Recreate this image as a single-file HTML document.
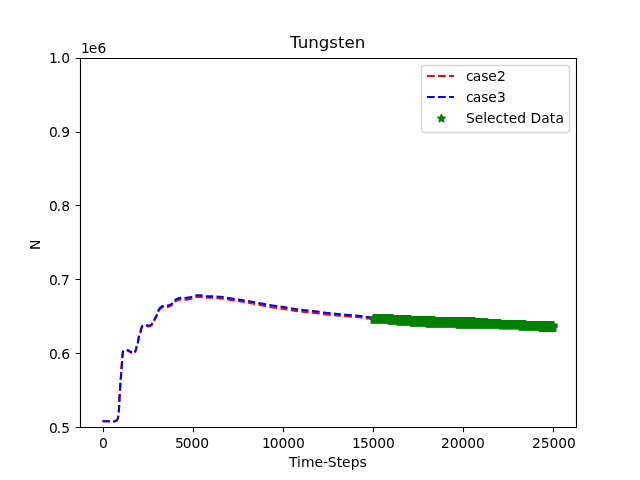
<!DOCTYPE html>
<html><head><meta charset="utf-8"><title>Tungsten</title>
<style>html,body{margin:0;padding:0;background:#fff;width:640px;height:480px;overflow:hidden}svg{display:block}</style>
</head><body>
<svg width="640" height="480" viewBox="0 0 640 480">
<rect x="0" y="0" width="640" height="480" fill="#ffffff"/>
<defs><clipPath id="ax"><rect x="80" y="57.6" width="496" height="369.6"/></clipPath></defs>
<path clip-path="url(#ax)" d="M102.50 421.30 L103.02 421.30 L103.54 421.31 L104.06 421.31 L104.70 421.31 L105.21 421.32 L105.72 421.32 L106.35 421.32 L106.85 421.33 L107.35 421.33 L107.85 421.33 L108.47 421.34 L108.96 421.34 L109.45 421.34 L109.85 421.35M113.18 421.37 L113.67 421.37 L114.15 421.38 L114.62 421.38 L115.11 421.33 L115.74 421.13 L116.19 420.89 L116.56 420.64 L116.95 420.22 L117.23 419.78 L117.47 419.30 L117.70 418.71 L117.83 418.26 L117.95 417.78 L118.05 417.30 L118.17 416.69 L118.25 416.20 L118.31 415.78M118.76 412.48 L118.79 412.06 L118.84 411.44 L118.88 410.95 L118.91 410.46 L118.94 409.97 L118.98 409.35 L119.01 408.86 L119.03 408.37 L119.07 407.75 L119.09 407.26 L119.12 406.77 L119.14 406.27 L119.17 405.66 L119.19 405.23M119.34 401.90 L119.36 401.47 L119.38 400.98 L119.40 400.36 L119.42 399.87 L119.45 399.37 L119.48 398.76 L119.50 398.27 L119.53 397.77 L119.56 397.28 L119.60 396.67 L119.63 396.18 L119.67 395.68 L119.71 395.07 L119.75 394.58 L119.78 394.15M119.99 390.83 L120.01 390.40 L120.04 389.91 L120.07 389.29 L120.09 388.80 L120.12 388.31 L120.15 387.69 L120.18 387.20 L120.21 386.71 L120.24 386.09 L120.26 385.60 L120.29 385.10 L120.31 384.61 L120.34 384.00 L120.37 383.50 L120.39 383.08M120.65 379.75 L120.69 379.33 L120.76 378.72 L120.82 378.23 L120.87 377.74 L120.92 377.26 L120.98 376.64 L121.02 376.15 L121.06 375.66 L121.10 375.05 L121.13 374.56 L121.17 374.06 L121.20 373.57 L121.24 372.96 L121.26 372.53M121.49 369.21 L121.52 368.78 L121.55 368.29 L121.60 367.67 L121.63 367.18 L121.67 366.69 L121.72 366.08 L121.75 365.59 L121.79 365.10 L121.82 364.60 L121.87 363.99 L121.90 363.50 L121.94 363.01 L121.98 362.39 L122.02 361.90 L122.05 361.48M122.29 358.15 L122.32 357.73 L122.35 357.23 L122.40 356.62 L122.44 356.13 L122.48 355.64 L122.54 355.02 L122.59 354.52 L122.64 354.02 L122.72 353.39 L122.80 352.91 L122.89 352.44 L123.00 352.00 L123.28 351.42 L123.56 351.09M126.80 350.66 L127.24 350.66 L127.71 350.70 L128.28 350.87 L128.72 351.10 L129.16 351.37 L129.60 351.66 L130.15 352.02 L130.59 352.26 L131.04 352.52 L131.60 352.88 L131.94 353.09M134.81 352.70 L135.02 352.34 L135.23 351.87 L135.47 351.27 L135.64 350.81 L135.80 350.35 L135.94 349.88 L136.11 349.29 L136.24 348.81 L136.37 348.33 L136.53 347.73 L136.67 347.26 L136.79 346.85M137.68 343.63 L137.77 343.22 L137.88 342.74 L138.00 342.13 L138.09 341.65 L138.17 341.16 L138.28 340.55 L138.36 340.06 L138.44 339.58 L138.53 339.09 L138.65 338.48 L138.75 338.00 L138.85 337.52 L139.01 336.93 L139.13 336.52M140.15 333.35 L140.26 332.93 L140.39 332.44 L140.54 331.83 L140.67 331.35 L140.79 330.86 L140.91 330.38 L141.08 329.78 L141.22 329.31 L141.37 328.84 L141.58 328.27 L141.76 327.83 L141.96 327.40 L142.21 326.94 L142.60 326.44 L142.94 326.22M146.21 325.88 L146.64 325.98 L147.12 326.13 L147.73 326.33 L148.21 326.44 L148.69 326.48 L149.29 326.38 L149.78 326.22 L150.24 326.03 L150.67 325.83 L151.17 325.49 L151.55 325.15 L151.90 324.79 L152.27 324.33 L152.50 323.99M154.04 321.04 L154.25 320.65 L154.49 320.23 L154.73 319.80 L155.04 319.26 L155.28 318.83 L155.52 318.41 L155.81 317.87 L156.04 317.43 L156.27 317.00 L156.48 316.56 L156.74 316.01 L156.94 315.56 L157.10 315.17M158.13 312.00 L158.30 311.62 L158.57 311.09 L158.83 310.67 L159.11 310.25 L159.49 309.75 L159.81 309.37 L160.14 309.01 L160.48 308.68 L160.94 308.29 L161.34 307.97 L161.76 307.68 L162.31 307.37 L162.75 307.19 L163.21 307.10 L163.65 307.03M166.98 306.94 L167.41 306.95 L168.01 306.89 L168.49 306.76 L168.96 306.58 L169.53 306.32 L169.98 306.12 L170.43 305.92 L170.99 305.65 L171.43 305.41 L171.86 305.15 L172.26 304.88 L172.67 304.55M174.65 301.89 L174.95 301.64 L175.34 301.38 L175.77 301.13 L176.33 300.86 L176.80 300.66 L177.27 300.47 L177.74 300.31 L178.32 300.12 L178.79 299.96 L179.26 299.80 L179.86 299.63 L180.35 299.53 L180.83 299.46 L181.26 299.46M184.58 299.79 L185.14 299.79 L185.64 299.75 L186.13 299.68 L186.62 299.60 L187.23 299.49 L187.72 299.41 L188.21 299.33 L188.82 299.22 L189.31 299.13 L189.80 299.04 L190.29 298.94 L190.90 298.81 L191.38 298.69 L191.86 298.57 L192.33 298.42M195.31 296.98 L195.84 296.96 L196.33 296.95 L196.82 296.94 L197.45 296.93 L197.95 296.93 L198.45 296.92 L198.95 296.91 L199.57 296.92 L200.06 296.93 L200.56 296.96 L201.17 297.01 L201.67 297.05 L202.16 297.09 L202.60 297.14M205.88 297.71 L206.32 297.76 L206.93 297.78 L207.42 297.78 L207.92 297.78 L208.53 297.78 L209.03 297.78 L209.52 297.78 L210.02 297.77 L210.64 297.77 L211.13 297.77 L211.63 297.77 L212.25 297.77 L212.74 297.77 L213.18 297.79M216.49 298.11 L216.93 298.15 L217.55 298.20 L218.04 298.24 L218.53 298.27 L219.03 298.30 L219.65 298.34 L220.14 298.38 L220.63 298.41 L221.25 298.46 L221.74 298.50 L222.23 298.54 L222.73 298.58 L223.34 298.65 L223.77 298.70M227.05 299.26 L227.49 299.34 L227.97 299.43 L228.58 299.53 L229.07 299.62 L229.55 299.71 L230.16 299.82 L230.65 299.91 L231.14 299.99 L231.62 300.07 L232.23 300.17 L232.72 300.25 L233.21 300.33 L233.82 300.42 L234.31 300.49 L234.74 300.56M238.04 301.03 L238.47 301.09 L238.96 301.16 L239.57 301.25 L240.06 301.32 L240.55 301.40 L241.16 301.50 L241.65 301.58 L242.14 301.66 L242.63 301.74 L243.24 301.84 L243.73 301.93 L244.22 302.01 L244.77 302.10M248.06 302.67 L248.49 302.75 L248.98 302.83 L249.46 302.92 L250.07 303.03 L250.56 303.12 L251.05 303.21 L251.54 303.30 L252.14 303.41 L252.63 303.50 L253.12 303.59 L253.73 303.71 L254.21 303.81 L254.70 303.90 L255.13 303.99M258.40 304.64 L258.83 304.73 L259.44 304.85 L259.92 304.94 L260.41 305.04 L261.02 305.16 L261.50 305.25 L261.99 305.35 L262.60 305.46 L263.08 305.56 L263.57 305.65 L264.06 305.75 L264.67 305.86 L265.15 305.96 L265.64 306.05 L266.07 306.13M269.35 306.75 L269.90 306.85 L270.39 306.94 L270.88 307.03 L271.36 307.12 L271.97 307.22 L272.46 307.30 L272.95 307.38 L273.56 307.48 L274.05 307.56 L274.54 307.63 L275.03 307.70 L275.64 307.79 L276.13 307.86 L276.62 307.93 L277.18 308.01M280.48 308.46 L280.92 308.52 L281.41 308.60 L281.90 308.67 L282.51 308.76 L283.00 308.84 L283.49 308.91 L283.98 308.99 L284.59 309.08 L285.07 309.17 L285.56 309.25 L286.17 309.36 L286.65 309.45 L287.14 309.54 L287.57 309.62M290.85 310.23 L291.27 310.30 L291.88 310.40 L292.37 310.49 L292.86 310.56 L293.47 310.65 L293.96 310.72 L294.44 310.79 L295.06 310.87 L295.55 310.93 L296.04 310.99 L296.53 311.05 L297.14 311.12 L297.63 311.18 L298.06 311.23M301.38 311.58 L301.81 311.63 L302.43 311.69 L302.92 311.74 L303.41 311.79 L303.90 311.84 L304.52 311.91 L305.01 311.96 L305.50 312.01 L306.11 312.08 L306.61 312.13 L307.10 312.18 L307.59 312.23 L308.21 312.29 L308.64 312.33M311.95 312.66 L312.39 312.70 L312.88 312.75 L313.49 312.81 L313.98 312.87 L314.48 312.92 L315.09 312.99 L315.58 313.04 L316.07 313.10 L316.56 313.16 L317.18 313.23 L317.67 313.29 L318.16 313.36 L318.77 313.44 L319.26 313.51 L319.69 313.57M322.99 314.03 L323.42 314.09 L323.91 314.15 L324.52 314.23 L325.01 314.30 L325.50 314.36 L326.12 314.43 L326.61 314.49 L327.10 314.54 L327.71 314.61 L328.20 314.66 L328.70 314.71 L329.19 314.76 L329.80 314.82 L330.29 314.87 L330.73 314.91M334.05 315.21 L334.48 315.25 L335.10 315.31 L335.59 315.35 L336.08 315.39 L336.57 315.44 L337.19 315.49 L337.68 315.53 L338.17 315.58 L338.79 315.63 L339.28 315.68 L339.77 315.72 L340.27 315.76 L340.82 315.81M344.14 316.09 L344.58 316.13 L345.07 316.17 L345.56 316.21 L346.18 316.26 L346.67 316.30 L347.16 316.34 L347.78 316.39 L348.27 316.43 L348.76 316.47 L349.26 316.51 L349.87 316.55 L350.37 316.59 L350.86 316.62 L351.48 316.67 L351.91 316.70M355.24 316.92 L355.67 316.95 L356.17 316.98 L356.66 317.02 L357.28 317.07 L357.77 317.11 L358.26 317.15 L358.87 317.21 L359.37 317.26 L359.86 317.31 L360.47 317.38 L360.96 317.45 L361.45 317.53 L361.93 317.61 L362.49 317.70M365.78 318.22 L366.21 318.27 L366.70 318.32 L367.19 318.37 L367.81 318.42 L368.30 318.47 L368.79 318.51 L369.28 318.55 L369.90 318.61 L370.39 318.66 L370.88 318.70 L371.50 318.76 L371.99 318.80 L372.48 318.84 L373.10 318.90" style="stroke:#ff0000;stroke-width:2.0833;fill:none;stroke-linejoin:round;stroke-linecap:butt"/>
<path clip-path="url(#ax)" d="M102.50 421.20 L103.02 421.20 L103.54 421.20 L104.06 421.20 L104.70 421.20 L105.21 421.20 L105.72 421.20 L106.35 421.20 L106.85 421.20 L107.35 421.20 L107.85 421.20 L108.47 421.20 L108.96 421.20 L109.45 421.20 L109.85 421.20M113.18 421.20 L113.67 421.20 L114.15 421.20 L114.62 421.20 L115.11 421.15 L115.74 420.94 L116.19 420.71 L116.56 420.45 L116.95 420.02 L117.23 419.58 L117.47 419.11 L117.70 418.51 L117.83 418.06 L117.95 417.58 L118.05 417.10 L118.17 416.48 L118.25 415.99 L118.32 415.55M118.75 412.24 L118.79 411.81 L118.84 411.19 L118.88 410.70 L118.91 410.21 L118.94 409.71 L118.98 409.10 L119.01 408.60 L119.03 408.11 L119.07 407.49 L119.09 407.00 L119.12 406.50 L119.14 406.01 L119.17 405.39 L119.19 404.95M119.34 401.62 L119.36 401.19 L119.38 400.69 L119.40 400.08 L119.42 399.58 L119.45 399.09 L119.48 398.47 L119.50 397.98 L119.53 397.48 L119.56 396.99 L119.60 396.37 L119.63 395.88 L119.67 395.38 L119.71 394.77 L119.75 394.27 L119.78 393.84M119.99 390.51 L120.01 390.08 L120.04 389.58 L120.07 388.97 L120.09 388.47 L120.12 387.98 L120.15 387.36 L120.18 386.87 L120.21 386.37 L120.24 385.76 L120.26 385.26 L120.29 384.77 L120.31 384.27 L120.34 383.66 L120.37 383.16 L120.39 382.73M120.65 379.40 L120.69 378.97 L120.76 378.36 L120.82 377.86 L120.87 377.37 L120.92 376.88 L120.98 376.26 L121.02 375.77 L121.06 375.28 L121.10 374.66 L121.13 374.17 L121.17 373.67 L121.20 373.18 L121.24 372.56 L121.26 372.13M121.48 368.80 L121.52 368.37 L121.55 367.88 L121.60 367.26 L121.63 366.76 L121.67 366.27 L121.72 365.66 L121.75 365.16 L121.79 364.67 L121.82 364.17 L121.87 363.56 L121.90 363.06 L121.94 362.57 L121.98 361.95 L122.02 361.46 L122.05 361.03M122.29 357.70 L122.32 357.27 L122.35 356.77 L122.40 356.16 L122.44 355.66 L122.48 355.17 L122.54 354.55 L122.59 354.05 L122.64 353.54 L122.72 352.91 L122.80 352.42 L122.89 351.95 L123.00 351.50 L123.28 350.91 L123.57 350.58M126.80 350.10 L127.24 350.10 L127.71 350.13 L128.28 350.30 L128.72 350.52 L129.16 350.78 L129.60 351.07 L130.15 351.41 L130.59 351.64 L131.04 351.90 L131.60 352.25 L131.93 352.46M134.80 352.03 L135.02 351.66 L135.23 351.19 L135.47 350.59 L135.64 350.13 L135.80 349.66 L135.94 349.19 L136.11 348.59 L136.24 348.11 L136.37 347.63 L136.53 347.03 L136.67 346.56 L136.79 346.14M137.67 342.92 L137.77 342.50 L137.88 342.02 L138.00 341.41 L138.09 340.92 L138.17 340.44 L138.28 339.82 L138.36 339.34 L138.44 338.85 L138.53 338.36 L138.65 337.75 L138.75 337.27 L138.85 336.79 L139.01 336.19 L139.13 335.77M140.15 332.60 L140.26 332.17 L140.39 331.69 L140.54 331.07 L140.67 330.59 L140.79 330.10 L140.91 329.61 L141.08 329.01 L141.22 328.54 L141.37 328.07 L141.58 327.50 L141.76 327.06 L141.96 326.62 L142.21 326.16 L142.60 325.65 L142.95 325.42M146.21 325.04 L146.64 325.13 L147.12 325.27 L147.73 325.46 L148.21 325.57 L148.69 325.60 L149.29 325.49 L149.78 325.33 L150.24 325.12 L150.67 324.91 L151.17 324.56 L151.55 324.21 L151.90 323.84 L152.27 323.37 L152.51 323.01M154.04 320.05 L154.25 319.65 L154.49 319.21 L154.73 318.78 L155.04 318.23 L155.28 317.80 L155.52 317.36 L155.81 316.82 L156.04 316.38 L156.27 315.94 L156.48 315.49 L156.74 314.94 L156.94 314.49 L157.11 314.07M158.13 310.90 L158.30 310.51 L158.57 309.97 L158.83 309.54 L159.11 309.11 L159.49 308.60 L159.81 308.21 L160.14 307.85 L160.48 307.51 L160.94 307.11 L161.34 306.78 L161.76 306.47 L162.31 306.15 L162.75 305.97 L163.21 305.86 L163.65 305.78M166.98 305.60 L167.41 305.60 L168.01 305.52 L168.49 305.38 L168.96 305.19 L169.53 304.92 L169.98 304.71 L170.43 304.50 L170.99 304.21 L171.43 303.96 L171.86 303.69 L172.26 303.40 L172.69 303.05M174.64 300.37 L174.95 300.09 L175.34 299.82 L175.77 299.57 L176.33 299.28 L176.80 299.07 L177.27 298.87 L177.74 298.69 L178.32 298.49 L178.79 298.32 L179.26 298.15 L179.86 297.96 L180.35 297.85 L180.83 297.77 L181.26 297.75M184.58 298.00 L185.14 297.99 L185.64 297.95 L186.13 297.90 L186.62 297.82 L187.23 297.72 L187.72 297.64 L188.21 297.57 L188.82 297.47 L189.31 297.39 L189.80 297.30 L190.29 297.21 L190.90 297.09 L191.38 296.98 L191.86 296.86 L192.32 296.72M195.31 295.32 L195.84 295.30 L196.33 295.30 L196.82 295.30 L197.45 295.30 L197.95 295.30 L198.45 295.30 L198.95 295.30 L199.57 295.31 L200.06 295.33 L200.56 295.36 L201.17 295.41 L201.67 295.45 L202.16 295.50 L202.60 295.54M205.88 296.13 L206.32 296.18 L206.93 296.20 L207.42 296.20 L207.92 296.20 L208.53 296.20 L209.03 296.20 L209.52 296.20 L210.02 296.20 L210.64 296.20 L211.13 296.20 L211.63 296.20 L212.25 296.20 L212.74 296.21 L213.18 296.23M216.49 296.55 L216.93 296.59 L217.55 296.64 L218.04 296.68 L218.53 296.72 L219.03 296.75 L219.65 296.79 L220.14 296.83 L220.63 296.86 L221.25 296.91 L221.74 296.95 L222.23 296.99 L222.73 297.04 L223.34 297.10 L223.77 297.16M227.05 297.73 L227.49 297.81 L227.97 297.90 L228.58 298.00 L229.07 298.09 L229.55 298.18 L230.16 298.29 L230.65 298.38 L231.14 298.47 L231.62 298.55 L232.23 298.65 L232.72 298.73 L233.21 298.81 L233.82 298.90 L234.31 298.98 L234.74 299.04M238.04 299.52 L238.47 299.58 L238.96 299.66 L239.57 299.75 L240.06 299.82 L240.55 299.89 L241.16 299.99 L241.65 300.06 L242.14 300.14 L242.63 300.22 L243.24 300.31 L243.73 300.39 L244.22 300.47 L244.77 300.56M248.06 301.10 L248.49 301.17 L248.98 301.25 L249.46 301.33 L250.07 301.44 L250.56 301.52 L251.05 301.60 L251.54 301.69 L252.14 301.80 L252.63 301.88 L253.12 301.97 L253.73 302.08 L254.21 302.17 L254.70 302.26 L255.13 302.34M258.40 302.97 L258.83 303.05 L259.44 303.17 L259.92 303.26 L260.41 303.35 L261.02 303.46 L261.50 303.55 L261.99 303.64 L262.60 303.75 L263.08 303.84 L263.57 303.93 L264.06 304.02 L264.67 304.13 L265.15 304.22 L265.64 304.31 L266.07 304.39M269.35 304.98 L269.90 305.08 L270.39 305.16 L270.88 305.24 L271.36 305.32 L271.97 305.42 L272.46 305.50 L272.95 305.58 L273.56 305.67 L274.05 305.74 L274.54 305.81 L275.03 305.88 L275.64 305.96 L276.13 306.03 L276.62 306.09 L277.18 306.16M280.49 306.59 L280.92 306.64 L281.41 306.71 L281.90 306.78 L282.51 306.87 L283.00 306.94 L283.49 307.01 L283.98 307.09 L284.59 307.19 L285.07 307.28 L285.56 307.37 L286.17 307.48 L286.65 307.57 L287.14 307.66 L287.57 307.75M290.84 308.37 L291.27 308.45 L291.88 308.56 L292.37 308.65 L292.86 308.73 L293.47 308.82 L293.96 308.89 L294.44 308.96 L295.06 309.05 L295.55 309.11 L296.04 309.18 L296.53 309.24 L297.14 309.31 L297.63 309.37 L298.07 309.42M301.38 309.80 L301.81 309.85 L302.43 309.91 L302.92 309.97 L303.41 310.02 L303.90 310.08 L304.52 310.15 L305.01 310.20 L305.50 310.26 L306.11 310.32 L306.61 310.38 L307.10 310.43 L307.59 310.48 L308.21 310.55 L308.64 310.59M311.95 310.94 L312.39 310.99 L312.88 311.04 L313.49 311.11 L313.98 311.16 L314.48 311.22 L315.09 311.29 L315.58 311.35 L316.07 311.41 L316.56 311.47 L317.18 311.55 L317.67 311.61 L318.16 311.68 L318.77 311.77 L319.26 311.84 L319.69 311.90M322.99 312.38 L323.42 312.44 L323.91 312.51 L324.52 312.60 L325.01 312.66 L325.50 312.73 L326.12 312.81 L326.61 312.87 L327.10 312.92 L327.71 312.99 L328.20 313.05 L328.70 313.10 L329.19 313.15 L329.80 313.22 L330.29 313.27 L330.73 313.32M334.05 313.64 L334.48 313.68 L335.10 313.74 L335.59 313.79 L336.08 313.84 L336.57 313.88 L337.19 313.94 L337.68 313.99 L338.17 314.04 L338.79 314.09 L339.28 314.14 L339.77 314.19 L340.27 314.23 L340.82 314.29M344.14 314.59 L344.58 314.63 L345.07 314.68 L345.56 314.72 L346.18 314.77 L346.67 314.82 L347.16 314.86 L347.78 314.92 L348.27 314.96 L348.76 315.00 L349.26 315.04 L349.87 315.09 L350.37 315.13 L350.86 315.17 L351.48 315.22 L351.91 315.25M355.24 315.49 L355.67 315.53 L356.17 315.57 L356.66 315.61 L357.28 315.66 L357.77 315.70 L358.26 315.75 L358.87 315.81 L359.37 315.86 L359.86 315.92 L360.47 316.00 L360.96 316.07 L361.45 316.15 L361.93 316.23 L362.49 316.33M365.78 316.87 L366.21 316.92 L366.70 316.98 L367.19 317.03 L367.81 317.09 L368.30 317.13 L368.79 317.18 L369.28 317.23 L369.90 317.29 L370.39 317.34 L370.88 317.39 L371.50 317.45 L371.99 317.49 L372.48 317.54 L373.10 317.60" style="stroke:#0000ff;stroke-width:2.0833;fill:none;stroke-linejoin:round;stroke-linecap:butt"/>
<path clip-path="url(#ax)" d="M373.50 314.33L372.56 317.21L369.54 317.21L371.99 318.99L371.05 321.87L373.50 320.09L375.95 321.87L375.01 318.99L377.46 317.21L374.44 317.21ZM373.50 315.33L372.56 318.21L369.54 318.21L371.99 319.99L371.05 322.87L373.50 321.09L375.95 322.87L375.01 319.99L377.46 318.21L374.44 318.21ZM373.50 315.83L372.56 318.71L369.54 318.71L371.99 320.49L371.05 323.37L373.50 321.59L375.95 323.37L375.01 320.49L377.46 318.71L374.44 318.71ZM374.50 314.33L373.56 317.21L370.54 317.21L372.99 318.99L372.05 321.87L374.50 320.09L376.95 321.87L376.01 318.99L378.46 317.21L375.44 317.21ZM374.50 315.33L373.56 318.21L370.54 318.21L372.99 319.99L372.05 322.87L374.50 321.09L376.95 322.87L376.01 319.99L378.46 318.21L375.44 318.21ZM374.50 315.83L373.56 318.71L370.54 318.71L372.99 320.49L372.05 323.37L374.50 321.59L376.95 323.37L376.01 320.49L378.46 318.71L375.44 318.71ZM375.50 314.33L374.56 317.21L371.54 317.21L373.99 318.99L373.05 321.87L375.50 320.09L377.95 321.87L377.01 318.99L379.46 317.21L376.44 317.21ZM375.50 315.33L374.56 318.21L371.54 318.21L373.99 319.99L373.05 322.87L375.50 321.09L377.95 322.87L377.01 319.99L379.46 318.21L376.44 318.21ZM375.50 315.83L374.56 318.71L371.54 318.71L373.99 320.49L373.05 323.37L375.50 321.59L377.95 323.37L377.01 320.49L379.46 318.71L376.44 318.71ZM376.50 314.33L375.56 317.21L372.54 317.21L374.99 318.99L374.05 321.87L376.50 320.09L378.95 321.87L378.01 318.99L380.46 317.21L377.44 317.21ZM376.50 315.33L375.56 318.21L372.54 318.21L374.99 319.99L374.05 322.87L376.50 321.09L378.95 322.87L378.01 319.99L380.46 318.21L377.44 318.21ZM376.50 315.83L375.56 318.71L372.54 318.71L374.99 320.49L374.05 323.37L376.50 321.59L378.95 323.37L378.01 320.49L380.46 318.71L377.44 318.71ZM377.50 314.33L376.56 317.21L373.54 317.21L375.99 318.99L375.05 321.87L377.50 320.09L379.95 321.87L379.01 318.99L381.46 317.21L378.44 317.21ZM377.50 315.33L376.56 318.21L373.54 318.21L375.99 319.99L375.05 322.87L377.50 321.09L379.95 322.87L379.01 319.99L381.46 318.21L378.44 318.21ZM377.50 315.83L376.56 318.71L373.54 318.71L375.99 320.49L375.05 323.37L377.50 321.59L379.95 323.37L379.01 320.49L381.46 318.71L378.44 318.71ZM378.50 314.33L377.56 317.21L374.54 317.21L376.99 318.99L376.05 321.87L378.50 320.09L380.95 321.87L380.01 318.99L382.46 317.21L379.44 317.21ZM378.50 315.33L377.56 318.21L374.54 318.21L376.99 319.99L376.05 322.87L378.50 321.09L380.95 322.87L380.01 319.99L382.46 318.21L379.44 318.21ZM378.50 315.83L377.56 318.71L374.54 318.71L376.99 320.49L376.05 323.37L378.50 321.59L380.95 323.37L380.01 320.49L382.46 318.71L379.44 318.71ZM379.50 314.33L378.56 317.21L375.54 317.21L377.99 318.99L377.05 321.87L379.50 320.09L381.95 321.87L381.01 318.99L383.46 317.21L380.44 317.21ZM379.50 315.33L378.56 318.21L375.54 318.21L377.99 319.99L377.05 322.87L379.50 321.09L381.95 322.87L381.01 319.99L383.46 318.21L380.44 318.21ZM379.50 315.83L378.56 318.71L375.54 318.71L377.99 320.49L377.05 323.37L379.50 321.59L381.95 323.37L381.01 320.49L383.46 318.71L380.44 318.71ZM380.50 314.33L379.56 317.21L376.54 317.21L378.99 318.99L378.05 321.87L380.50 320.09L382.95 321.87L382.01 318.99L384.46 317.21L381.44 317.21ZM380.50 315.33L379.56 318.21L376.54 318.21L378.99 319.99L378.05 322.87L380.50 321.09L382.95 322.87L382.01 319.99L384.46 318.21L381.44 318.21ZM380.50 315.83L379.56 318.71L376.54 318.71L378.99 320.49L378.05 323.37L380.50 321.59L382.95 323.37L382.01 320.49L384.46 318.71L381.44 318.71ZM381.50 314.33L380.56 317.21L377.54 317.21L379.99 318.99L379.05 321.87L381.50 320.09L383.95 321.87L383.01 318.99L385.46 317.21L382.44 317.21ZM381.50 315.33L380.56 318.21L377.54 318.21L379.99 319.99L379.05 322.87L381.50 321.09L383.95 322.87L383.01 319.99L385.46 318.21L382.44 318.21ZM381.50 315.83L380.56 318.71L377.54 318.71L379.99 320.49L379.05 323.37L381.50 321.59L383.95 323.37L383.01 320.49L385.46 318.71L382.44 318.71ZM382.50 314.33L381.56 317.21L378.54 317.21L380.99 318.99L380.05 321.87L382.50 320.09L384.95 321.87L384.01 318.99L386.46 317.21L383.44 317.21ZM382.50 315.33L381.56 318.21L378.54 318.21L380.99 319.99L380.05 322.87L382.50 321.09L384.95 322.87L384.01 319.99L386.46 318.21L383.44 318.21ZM382.50 315.83L381.56 318.71L378.54 318.71L380.99 320.49L380.05 323.37L382.50 321.59L384.95 323.37L384.01 320.49L386.46 318.71L383.44 318.71ZM383.50 314.33L382.56 317.21L379.54 317.21L381.99 318.99L381.05 321.87L383.50 320.09L385.95 321.87L385.01 318.99L387.46 317.21L384.44 317.21ZM383.50 315.33L382.56 318.21L379.54 318.21L381.99 319.99L381.05 322.87L383.50 321.09L385.95 322.87L385.01 319.99L387.46 318.21L384.44 318.21ZM383.50 315.83L382.56 318.71L379.54 318.71L381.99 320.49L381.05 323.37L383.50 321.59L385.95 323.37L385.01 320.49L387.46 318.71L384.44 318.71ZM384.50 314.33L383.56 317.21L380.54 317.21L382.99 318.99L382.05 321.87L384.50 320.09L386.95 321.87L386.01 318.99L388.46 317.21L385.44 317.21ZM384.50 315.33L383.56 318.21L380.54 318.21L382.99 319.99L382.05 322.87L384.50 321.09L386.95 322.87L386.01 319.99L388.46 318.21L385.44 318.21ZM384.50 315.83L383.56 318.71L380.54 318.71L382.99 320.49L382.05 323.37L384.50 321.59L386.95 323.37L386.01 320.49L388.46 318.71L385.44 318.71ZM385.50 314.33L384.56 317.21L381.54 317.21L383.99 318.99L383.05 321.87L385.50 320.09L387.95 321.87L387.01 318.99L389.46 317.21L386.44 317.21ZM385.50 315.33L384.56 318.21L381.54 318.21L383.99 319.99L383.05 322.87L385.50 321.09L387.95 322.87L387.01 319.99L389.46 318.21L386.44 318.21ZM385.50 315.83L384.56 318.71L381.54 318.71L383.99 320.49L383.05 323.37L385.50 321.59L387.95 323.37L387.01 320.49L389.46 318.71L386.44 318.71ZM386.50 314.33L385.56 317.21L382.54 317.21L384.99 318.99L384.05 321.87L386.50 320.09L388.95 321.87L388.01 318.99L390.46 317.21L387.44 317.21ZM386.50 315.33L385.56 318.21L382.54 318.21L384.99 319.99L384.05 322.87L386.50 321.09L388.95 322.87L388.01 319.99L390.46 318.21L387.44 318.21ZM386.50 315.83L385.56 318.71L382.54 318.71L384.99 320.49L384.05 323.37L386.50 321.59L388.95 323.37L388.01 320.49L390.46 318.71L387.44 318.71ZM387.50 314.33L386.56 317.21L383.54 317.21L385.99 318.99L385.05 321.87L387.50 320.09L389.95 321.87L389.01 318.99L391.46 317.21L388.44 317.21ZM387.50 315.33L386.56 318.21L383.54 318.21L385.99 319.99L385.05 322.87L387.50 321.09L389.95 322.87L389.01 319.99L391.46 318.21L388.44 318.21ZM387.50 315.83L386.56 318.71L383.54 318.71L385.99 320.49L385.05 323.37L387.50 321.59L389.95 323.37L389.01 320.49L391.46 318.71L388.44 318.71ZM388.50 314.33L387.56 317.21L384.54 317.21L386.99 318.99L386.05 321.87L388.50 320.09L390.95 321.87L390.01 318.99L392.46 317.21L389.44 317.21ZM388.50 315.33L387.56 318.21L384.54 318.21L386.99 319.99L386.05 322.87L388.50 321.09L390.95 322.87L390.01 319.99L392.46 318.21L389.44 318.21ZM388.50 315.83L387.56 318.71L384.54 318.71L386.99 320.49L386.05 323.37L388.50 321.59L390.95 323.37L390.01 320.49L392.46 318.71L389.44 318.71ZM389.50 314.33L388.56 317.21L385.54 317.21L387.99 318.99L387.05 321.87L389.50 320.09L391.95 321.87L391.01 318.99L393.46 317.21L390.44 317.21ZM389.50 315.33L388.56 318.21L385.54 318.21L387.99 319.99L387.05 322.87L389.50 321.09L391.95 322.87L391.01 319.99L393.46 318.21L390.44 318.21ZM389.50 315.83L388.56 318.71L385.54 318.71L387.99 320.49L387.05 323.37L389.50 321.59L391.95 323.37L391.01 320.49L393.46 318.71L390.44 318.71ZM390.50 314.33L389.56 317.21L386.54 317.21L388.99 318.99L388.05 321.87L390.50 320.09L392.95 321.87L392.01 318.99L394.46 317.21L391.44 317.21ZM390.50 315.33L389.56 318.21L386.54 318.21L388.99 319.99L388.05 322.87L390.50 321.09L392.95 322.87L392.01 319.99L394.46 318.21L391.44 318.21ZM390.50 316.83L389.56 319.71L386.54 319.71L388.99 321.49L388.05 324.37L390.50 322.59L392.95 324.37L392.01 321.49L394.46 319.71L391.44 319.71ZM391.50 314.33L390.56 317.21L387.54 317.21L389.99 318.99L389.05 321.87L391.50 320.09L393.95 321.87L393.01 318.99L395.46 317.21L392.44 317.21ZM391.50 315.33L390.56 318.21L387.54 318.21L389.99 319.99L389.05 322.87L391.50 321.09L393.95 322.87L393.01 319.99L395.46 318.21L392.44 318.21ZM391.50 316.83L390.56 319.71L387.54 319.71L389.99 321.49L389.05 324.37L391.50 322.59L393.95 324.37L393.01 321.49L395.46 319.71L392.44 319.71ZM392.50 314.33L391.56 317.21L388.54 317.21L390.99 318.99L390.05 321.87L392.50 320.09L394.95 321.87L394.01 318.99L396.46 317.21L393.44 317.21ZM392.50 315.33L391.56 318.21L388.54 318.21L390.99 319.99L390.05 322.87L392.50 321.09L394.95 322.87L394.01 319.99L396.46 318.21L393.44 318.21ZM392.50 316.83L391.56 319.71L388.54 319.71L390.99 321.49L390.05 324.37L392.50 322.59L394.95 324.37L394.01 321.49L396.46 319.71L393.44 319.71ZM393.50 315.33L392.56 318.21L389.54 318.21L391.99 319.99L391.05 322.87L393.50 321.09L395.95 322.87L395.01 319.99L397.46 318.21L394.44 318.21ZM393.50 316.33L392.56 319.21L389.54 319.21L391.99 320.99L391.05 323.87L393.50 322.09L395.95 323.87L395.01 320.99L397.46 319.21L394.44 319.21ZM393.50 316.83L392.56 319.71L389.54 319.71L391.99 321.49L391.05 324.37L393.50 322.59L395.95 324.37L395.01 321.49L397.46 319.71L394.44 319.71ZM394.50 315.33L393.56 318.21L390.54 318.21L392.99 319.99L392.05 322.87L394.50 321.09L396.95 322.87L396.01 319.99L398.46 318.21L395.44 318.21ZM394.50 316.33L393.56 319.21L390.54 319.21L392.99 320.99L392.05 323.87L394.50 322.09L396.95 323.87L396.01 320.99L398.46 319.21L395.44 319.21ZM394.50 316.83L393.56 319.71L390.54 319.71L392.99 321.49L392.05 324.37L394.50 322.59L396.95 324.37L396.01 321.49L398.46 319.71L395.44 319.71ZM395.50 315.33L394.56 318.21L391.54 318.21L393.99 319.99L393.05 322.87L395.50 321.09L397.95 322.87L397.01 319.99L399.46 318.21L396.44 318.21ZM395.50 316.33L394.56 319.21L391.54 319.21L393.99 320.99L393.05 323.87L395.50 322.09L397.95 323.87L397.01 320.99L399.46 319.21L396.44 319.21ZM395.50 316.83L394.56 319.71L391.54 319.71L393.99 321.49L393.05 324.37L395.50 322.59L397.95 324.37L397.01 321.49L399.46 319.71L396.44 319.71ZM396.50 315.33L395.56 318.21L392.54 318.21L394.99 319.99L394.05 322.87L396.50 321.09L398.95 322.87L398.01 319.99L400.46 318.21L397.44 318.21ZM396.50 316.33L395.56 319.21L392.54 319.21L394.99 320.99L394.05 323.87L396.50 322.09L398.95 323.87L398.01 320.99L400.46 319.21L397.44 319.21ZM396.50 316.83L395.56 319.71L392.54 319.71L394.99 321.49L394.05 324.37L396.50 322.59L398.95 324.37L398.01 321.49L400.46 319.71L397.44 319.71ZM397.50 315.33L396.56 318.21L393.54 318.21L395.99 319.99L395.05 322.87L397.50 321.09L399.95 322.87L399.01 319.99L401.46 318.21L398.44 318.21ZM397.50 316.33L396.56 319.21L393.54 319.21L395.99 320.99L395.05 323.87L397.50 322.09L399.95 323.87L399.01 320.99L401.46 319.21L398.44 319.21ZM397.50 316.83L396.56 319.71L393.54 319.71L395.99 321.49L395.05 324.37L397.50 322.59L399.95 324.37L399.01 321.49L401.46 319.71L398.44 319.71ZM398.50 315.33L397.56 318.21L394.54 318.21L396.99 319.99L396.05 322.87L398.50 321.09L400.95 322.87L400.01 319.99L402.46 318.21L399.44 318.21ZM398.50 316.33L397.56 319.21L394.54 319.21L396.99 320.99L396.05 323.87L398.50 322.09L400.95 323.87L400.01 320.99L402.46 319.21L399.44 319.21ZM398.50 316.83L397.56 319.71L394.54 319.71L396.99 321.49L396.05 324.37L398.50 322.59L400.95 324.37L400.01 321.49L402.46 319.71L399.44 319.71ZM399.50 315.33L398.56 318.21L395.54 318.21L397.99 319.99L397.05 322.87L399.50 321.09L401.95 322.87L401.01 319.99L403.46 318.21L400.44 318.21ZM399.50 316.33L398.56 319.21L395.54 319.21L397.99 320.99L397.05 323.87L399.50 322.09L401.95 323.87L401.01 320.99L403.46 319.21L400.44 319.21ZM399.50 317.83L398.56 320.71L395.54 320.71L397.99 322.49L397.05 325.37L399.50 323.59L401.95 325.37L401.01 322.49L403.46 320.71L400.44 320.71ZM400.50 315.33L399.56 318.21L396.54 318.21L398.99 319.99L398.05 322.87L400.50 321.09L402.95 322.87L402.01 319.99L404.46 318.21L401.44 318.21ZM400.50 316.33L399.56 319.21L396.54 319.21L398.99 320.99L398.05 323.87L400.50 322.09L402.95 323.87L402.01 320.99L404.46 319.21L401.44 319.21ZM400.50 317.83L399.56 320.71L396.54 320.71L398.99 322.49L398.05 325.37L400.50 323.59L402.95 325.37L402.01 322.49L404.46 320.71L401.44 320.71ZM401.50 315.33L400.56 318.21L397.54 318.21L399.99 319.99L399.05 322.87L401.50 321.09L403.95 322.87L403.01 319.99L405.46 318.21L402.44 318.21ZM401.50 316.33L400.56 319.21L397.54 319.21L399.99 320.99L399.05 323.87L401.50 322.09L403.95 323.87L403.01 320.99L405.46 319.21L402.44 319.21ZM401.50 317.83L400.56 320.71L397.54 320.71L399.99 322.49L399.05 325.37L401.50 323.59L403.95 325.37L403.01 322.49L405.46 320.71L402.44 320.71ZM402.50 315.33L401.56 318.21L398.54 318.21L400.99 319.99L400.05 322.87L402.50 321.09L404.95 322.87L404.01 319.99L406.46 318.21L403.44 318.21ZM402.50 316.33L401.56 319.21L398.54 319.21L400.99 320.99L400.05 323.87L402.50 322.09L404.95 323.87L404.01 320.99L406.46 319.21L403.44 319.21ZM402.50 317.83L401.56 320.71L398.54 320.71L400.99 322.49L400.05 325.37L402.50 323.59L404.95 325.37L404.01 322.49L406.46 320.71L403.44 320.71ZM403.50 315.33L402.56 318.21L399.54 318.21L401.99 319.99L401.05 322.87L403.50 321.09L405.95 322.87L405.01 319.99L407.46 318.21L404.44 318.21ZM403.50 316.33L402.56 319.21L399.54 319.21L401.99 320.99L401.05 323.87L403.50 322.09L405.95 323.87L405.01 320.99L407.46 319.21L404.44 319.21ZM403.50 317.83L402.56 320.71L399.54 320.71L401.99 322.49L401.05 325.37L403.50 323.59L405.95 325.37L405.01 322.49L407.46 320.71L404.44 320.71ZM404.50 315.33L403.56 318.21L400.54 318.21L402.99 319.99L402.05 322.87L404.50 321.09L406.95 322.87L406.01 319.99L408.46 318.21L405.44 318.21ZM404.50 316.33L403.56 319.21L400.54 319.21L402.99 320.99L402.05 323.87L404.50 322.09L406.95 323.87L406.01 320.99L408.46 319.21L405.44 319.21ZM404.50 317.83L403.56 320.71L400.54 320.71L402.99 322.49L402.05 325.37L404.50 323.59L406.95 325.37L406.01 322.49L408.46 320.71L405.44 320.71ZM405.50 315.33L404.56 318.21L401.54 318.21L403.99 319.99L403.05 322.87L405.50 321.09L407.95 322.87L407.01 319.99L409.46 318.21L406.44 318.21ZM405.50 316.33L404.56 319.21L401.54 319.21L403.99 320.99L403.05 323.87L405.50 322.09L407.95 323.87L407.01 320.99L409.46 319.21L406.44 319.21ZM405.50 317.83L404.56 320.71L401.54 320.71L403.99 322.49L403.05 325.37L405.50 323.59L407.95 325.37L407.01 322.49L409.46 320.71L406.44 320.71ZM406.50 315.33L405.56 318.21L402.54 318.21L404.99 319.99L404.05 322.87L406.50 321.09L408.95 322.87L408.01 319.99L410.46 318.21L407.44 318.21ZM406.50 316.33L405.56 319.21L402.54 319.21L404.99 320.99L404.05 323.87L406.50 322.09L408.95 323.87L408.01 320.99L410.46 319.21L407.44 319.21ZM406.50 317.83L405.56 320.71L402.54 320.71L404.99 322.49L404.05 325.37L406.50 323.59L408.95 325.37L408.01 322.49L410.46 320.71L407.44 320.71ZM407.50 315.33L406.56 318.21L403.54 318.21L405.99 319.99L405.05 322.87L407.50 321.09L409.95 322.87L409.01 319.99L411.46 318.21L408.44 318.21ZM407.50 316.33L406.56 319.21L403.54 319.21L405.99 320.99L405.05 323.87L407.50 322.09L409.95 323.87L409.01 320.99L411.46 319.21L408.44 319.21ZM407.50 317.83L406.56 320.71L403.54 320.71L405.99 322.49L405.05 325.37L407.50 323.59L409.95 325.37L409.01 322.49L411.46 320.71L408.44 320.71ZM408.50 315.33L407.56 318.21L404.54 318.21L406.99 319.99L406.05 322.87L408.50 321.09L410.95 322.87L410.01 319.99L412.46 318.21L409.44 318.21ZM408.50 316.33L407.56 319.21L404.54 319.21L406.99 320.99L406.05 323.87L408.50 322.09L410.95 323.87L410.01 320.99L412.46 319.21L409.44 319.21ZM408.50 317.83L407.56 320.71L404.54 320.71L406.99 322.49L406.05 325.37L408.50 323.59L410.95 325.37L410.01 322.49L412.46 320.71L409.44 320.71ZM409.50 315.33L408.56 318.21L405.54 318.21L407.99 319.99L407.05 322.87L409.50 321.09L411.95 322.87L411.01 319.99L413.46 318.21L410.44 318.21ZM409.50 316.33L408.56 319.21L405.54 319.21L407.99 320.99L407.05 323.87L409.50 322.09L411.95 323.87L411.01 320.99L413.46 319.21L410.44 319.21ZM409.50 317.83L408.56 320.71L405.54 320.71L407.99 322.49L407.05 325.37L409.50 323.59L411.95 325.37L411.01 322.49L413.46 320.71L410.44 320.71ZM410.50 315.33L409.56 318.21L406.54 318.21L408.99 319.99L408.05 322.87L410.50 321.09L412.95 322.87L412.01 319.99L414.46 318.21L411.44 318.21ZM410.50 316.33L409.56 319.21L406.54 319.21L408.99 320.99L408.05 323.87L410.50 322.09L412.95 323.87L412.01 320.99L414.46 319.21L411.44 319.21ZM410.50 317.83L409.56 320.71L406.54 320.71L408.99 322.49L408.05 325.37L410.50 323.59L412.95 325.37L412.01 322.49L414.46 320.71L411.44 320.71ZM411.50 316.33L410.56 319.21L407.54 319.21L409.99 320.99L409.05 323.87L411.50 322.09L413.95 323.87L413.01 320.99L415.46 319.21L412.44 319.21ZM411.50 317.33L410.56 320.21L407.54 320.21L409.99 321.99L409.05 324.87L411.50 323.09L413.95 324.87L413.01 321.99L415.46 320.21L412.44 320.21ZM411.50 317.83L410.56 320.71L407.54 320.71L409.99 322.49L409.05 325.37L411.50 323.59L413.95 325.37L413.01 322.49L415.46 320.71L412.44 320.71ZM412.50 316.33L411.56 319.21L408.54 319.21L410.99 320.99L410.05 323.87L412.50 322.09L414.95 323.87L414.01 320.99L416.46 319.21L413.44 319.21ZM412.50 317.33L411.56 320.21L408.54 320.21L410.99 321.99L410.05 324.87L412.50 323.09L414.95 324.87L414.01 321.99L416.46 320.21L413.44 320.21ZM412.50 318.83L411.56 321.71L408.54 321.71L410.99 323.49L410.05 326.37L412.50 324.59L414.95 326.37L414.01 323.49L416.46 321.71L413.44 321.71ZM413.50 316.33L412.56 319.21L409.54 319.21L411.99 320.99L411.05 323.87L413.50 322.09L415.95 323.87L415.01 320.99L417.46 319.21L414.44 319.21ZM413.50 317.33L412.56 320.21L409.54 320.21L411.99 321.99L411.05 324.87L413.50 323.09L415.95 324.87L415.01 321.99L417.46 320.21L414.44 320.21ZM413.50 318.83L412.56 321.71L409.54 321.71L411.99 323.49L411.05 326.37L413.50 324.59L415.95 326.37L415.01 323.49L417.46 321.71L414.44 321.71ZM414.50 316.33L413.56 319.21L410.54 319.21L412.99 320.99L412.05 323.87L414.50 322.09L416.95 323.87L416.01 320.99L418.46 319.21L415.44 319.21ZM414.50 317.33L413.56 320.21L410.54 320.21L412.99 321.99L412.05 324.87L414.50 323.09L416.95 324.87L416.01 321.99L418.46 320.21L415.44 320.21ZM414.50 318.83L413.56 321.71L410.54 321.71L412.99 323.49L412.05 326.37L414.50 324.59L416.95 326.37L416.01 323.49L418.46 321.71L415.44 321.71ZM415.50 316.33L414.56 319.21L411.54 319.21L413.99 320.99L413.05 323.87L415.50 322.09L417.95 323.87L417.01 320.99L419.46 319.21L416.44 319.21ZM415.50 317.33L414.56 320.21L411.54 320.21L413.99 321.99L413.05 324.87L415.50 323.09L417.95 324.87L417.01 321.99L419.46 320.21L416.44 320.21ZM415.50 318.83L414.56 321.71L411.54 321.71L413.99 323.49L413.05 326.37L415.50 324.59L417.95 326.37L417.01 323.49L419.46 321.71L416.44 321.71ZM416.50 316.33L415.56 319.21L412.54 319.21L414.99 320.99L414.05 323.87L416.50 322.09L418.95 323.87L418.01 320.99L420.46 319.21L417.44 319.21ZM416.50 317.33L415.56 320.21L412.54 320.21L414.99 321.99L414.05 324.87L416.50 323.09L418.95 324.87L418.01 321.99L420.46 320.21L417.44 320.21ZM416.50 318.83L415.56 321.71L412.54 321.71L414.99 323.49L414.05 326.37L416.50 324.59L418.95 326.37L418.01 323.49L420.46 321.71L417.44 321.71ZM417.50 316.33L416.56 319.21L413.54 319.21L415.99 320.99L415.05 323.87L417.50 322.09L419.95 323.87L419.01 320.99L421.46 319.21L418.44 319.21ZM417.50 317.33L416.56 320.21L413.54 320.21L415.99 321.99L415.05 324.87L417.50 323.09L419.95 324.87L419.01 321.99L421.46 320.21L418.44 320.21ZM417.50 318.83L416.56 321.71L413.54 321.71L415.99 323.49L415.05 326.37L417.50 324.59L419.95 326.37L419.01 323.49L421.46 321.71L418.44 321.71ZM418.50 316.33L417.56 319.21L414.54 319.21L416.99 320.99L416.05 323.87L418.50 322.09L420.95 323.87L420.01 320.99L422.46 319.21L419.44 319.21ZM418.50 317.33L417.56 320.21L414.54 320.21L416.99 321.99L416.05 324.87L418.50 323.09L420.95 324.87L420.01 321.99L422.46 320.21L419.44 320.21ZM418.50 318.83L417.56 321.71L414.54 321.71L416.99 323.49L416.05 326.37L418.50 324.59L420.95 326.37L420.01 323.49L422.46 321.71L419.44 321.71ZM419.50 316.33L418.56 319.21L415.54 319.21L417.99 320.99L417.05 323.87L419.50 322.09L421.95 323.87L421.01 320.99L423.46 319.21L420.44 319.21ZM419.50 317.33L418.56 320.21L415.54 320.21L417.99 321.99L417.05 324.87L419.50 323.09L421.95 324.87L421.01 321.99L423.46 320.21L420.44 320.21ZM419.50 318.83L418.56 321.71L415.54 321.71L417.99 323.49L417.05 326.37L419.50 324.59L421.95 326.37L421.01 323.49L423.46 321.71L420.44 321.71ZM420.50 316.33L419.56 319.21L416.54 319.21L418.99 320.99L418.05 323.87L420.50 322.09L422.95 323.87L422.01 320.99L424.46 319.21L421.44 319.21ZM420.50 317.33L419.56 320.21L416.54 320.21L418.99 321.99L418.05 324.87L420.50 323.09L422.95 324.87L422.01 321.99L424.46 320.21L421.44 320.21ZM420.50 318.83L419.56 321.71L416.54 321.71L418.99 323.49L418.05 326.37L420.50 324.59L422.95 326.37L422.01 323.49L424.46 321.71L421.44 321.71ZM421.50 316.33L420.56 319.21L417.54 319.21L419.99 320.99L419.05 323.87L421.50 322.09L423.95 323.87L423.01 320.99L425.46 319.21L422.44 319.21ZM421.50 317.33L420.56 320.21L417.54 320.21L419.99 321.99L419.05 324.87L421.50 323.09L423.95 324.87L423.01 321.99L425.46 320.21L422.44 320.21ZM421.50 318.83L420.56 321.71L417.54 321.71L419.99 323.49L419.05 326.37L421.50 324.59L423.95 326.37L423.01 323.49L425.46 321.71L422.44 321.71ZM422.50 316.33L421.56 319.21L418.54 319.21L420.99 320.99L420.05 323.87L422.50 322.09L424.95 323.87L424.01 320.99L426.46 319.21L423.44 319.21ZM422.50 317.33L421.56 320.21L418.54 320.21L420.99 321.99L420.05 324.87L422.50 323.09L424.95 324.87L424.01 321.99L426.46 320.21L423.44 320.21ZM422.50 318.83L421.56 321.71L418.54 321.71L420.99 323.49L420.05 326.37L422.50 324.59L424.95 326.37L424.01 323.49L426.46 321.71L423.44 321.71ZM423.50 316.33L422.56 319.21L419.54 319.21L421.99 320.99L421.05 323.87L423.50 322.09L425.95 323.87L425.01 320.99L427.46 319.21L424.44 319.21ZM423.50 317.33L422.56 320.21L419.54 320.21L421.99 321.99L421.05 324.87L423.50 323.09L425.95 324.87L425.01 321.99L427.46 320.21L424.44 320.21ZM423.50 318.83L422.56 321.71L419.54 321.71L421.99 323.49L421.05 326.37L423.50 324.59L425.95 326.37L425.01 323.49L427.46 321.71L424.44 321.71ZM424.50 316.33L423.56 319.21L420.54 319.21L422.99 320.99L422.05 323.87L424.50 322.09L426.95 323.87L426.01 320.99L428.46 319.21L425.44 319.21ZM424.50 317.33L423.56 320.21L420.54 320.21L422.99 321.99L422.05 324.87L424.50 323.09L426.95 324.87L426.01 321.99L428.46 320.21L425.44 320.21ZM424.50 318.83L423.56 321.71L420.54 321.71L422.99 323.49L422.05 326.37L424.50 324.59L426.95 326.37L426.01 323.49L428.46 321.71L425.44 321.71ZM425.50 316.33L424.56 319.21L421.54 319.21L423.99 320.99L423.05 323.87L425.50 322.09L427.95 323.87L427.01 320.99L429.46 319.21L426.44 319.21ZM425.50 317.33L424.56 320.21L421.54 320.21L423.99 321.99L423.05 324.87L425.50 323.09L427.95 324.87L427.01 321.99L429.46 320.21L426.44 320.21ZM425.50 318.83L424.56 321.71L421.54 321.71L423.99 323.49L423.05 326.37L425.50 324.59L427.95 326.37L427.01 323.49L429.46 321.71L426.44 321.71ZM426.50 316.33L425.56 319.21L422.54 319.21L424.99 320.99L424.05 323.87L426.50 322.09L428.95 323.87L428.01 320.99L430.46 319.21L427.44 319.21ZM426.50 317.33L425.56 320.21L422.54 320.21L424.99 321.99L424.05 324.87L426.50 323.09L428.95 324.87L428.01 321.99L430.46 320.21L427.44 320.21ZM426.50 318.83L425.56 321.71L422.54 321.71L424.99 323.49L424.05 326.37L426.50 324.59L428.95 326.37L428.01 323.49L430.46 321.71L427.44 321.71ZM427.50 316.33L426.56 319.21L423.54 319.21L425.99 320.99L425.05 323.87L427.50 322.09L429.95 323.87L429.01 320.99L431.46 319.21L428.44 319.21ZM427.50 317.33L426.56 320.21L423.54 320.21L425.99 321.99L425.05 324.87L427.50 323.09L429.95 324.87L429.01 321.99L431.46 320.21L428.44 320.21ZM427.50 318.83L426.56 321.71L423.54 321.71L425.99 323.49L425.05 326.37L427.50 324.59L429.95 326.37L429.01 323.49L431.46 321.71L428.44 321.71ZM428.50 316.33L427.56 319.21L424.54 319.21L426.99 320.99L426.05 323.87L428.50 322.09L430.95 323.87L430.01 320.99L432.46 319.21L429.44 319.21ZM428.50 318.33L427.56 321.21L424.54 321.21L426.99 322.99L426.05 325.87L428.50 324.09L430.95 325.87L430.01 322.99L432.46 321.21L429.44 321.21ZM428.50 319.83L427.56 322.71L424.54 322.71L426.99 324.49L426.05 327.37L428.50 325.59L430.95 327.37L430.01 324.49L432.46 322.71L429.44 322.71ZM429.50 316.33L428.56 319.21L425.54 319.21L427.99 320.99L427.05 323.87L429.50 322.09L431.95 323.87L431.01 320.99L433.46 319.21L430.44 319.21ZM429.50 318.33L428.56 321.21L425.54 321.21L427.99 322.99L427.05 325.87L429.50 324.09L431.95 325.87L431.01 322.99L433.46 321.21L430.44 321.21ZM429.50 319.83L428.56 322.71L425.54 322.71L427.99 324.49L427.05 327.37L429.50 325.59L431.95 327.37L431.01 324.49L433.46 322.71L430.44 322.71ZM430.50 316.33L429.56 319.21L426.54 319.21L428.99 320.99L428.05 323.87L430.50 322.09L432.95 323.87L432.01 320.99L434.46 319.21L431.44 319.21ZM430.50 318.33L429.56 321.21L426.54 321.21L428.99 322.99L428.05 325.87L430.50 324.09L432.95 325.87L432.01 322.99L434.46 321.21L431.44 321.21ZM430.50 319.83L429.56 322.71L426.54 322.71L428.99 324.49L428.05 327.37L430.50 325.59L432.95 327.37L432.01 324.49L434.46 322.71L431.44 322.71ZM431.50 316.33L430.56 319.21L427.54 319.21L429.99 320.99L429.05 323.87L431.50 322.09L433.95 323.87L433.01 320.99L435.46 319.21L432.44 319.21ZM431.50 318.33L430.56 321.21L427.54 321.21L429.99 322.99L429.05 325.87L431.50 324.09L433.95 325.87L433.01 322.99L435.46 321.21L432.44 321.21ZM431.50 319.83L430.56 322.71L427.54 322.71L429.99 324.49L429.05 327.37L431.50 325.59L433.95 327.37L433.01 324.49L435.46 322.71L432.44 322.71ZM432.50 316.33L431.56 319.21L428.54 319.21L430.99 320.99L430.05 323.87L432.50 322.09L434.95 323.87L434.01 320.99L436.46 319.21L433.44 319.21ZM432.50 318.33L431.56 321.21L428.54 321.21L430.99 322.99L430.05 325.87L432.50 324.09L434.95 325.87L434.01 322.99L436.46 321.21L433.44 321.21ZM432.50 319.83L431.56 322.71L428.54 322.71L430.99 324.49L430.05 327.37L432.50 325.59L434.95 327.37L434.01 324.49L436.46 322.71L433.44 322.71ZM433.50 316.33L432.56 319.21L429.54 319.21L431.99 320.99L431.05 323.87L433.50 322.09L435.95 323.87L435.01 320.99L437.46 319.21L434.44 319.21ZM433.50 318.33L432.56 321.21L429.54 321.21L431.99 322.99L431.05 325.87L433.50 324.09L435.95 325.87L435.01 322.99L437.46 321.21L434.44 321.21ZM433.50 319.83L432.56 322.71L429.54 322.71L431.99 324.49L431.05 327.37L433.50 325.59L435.95 327.37L435.01 324.49L437.46 322.71L434.44 322.71ZM434.50 316.33L433.56 319.21L430.54 319.21L432.99 320.99L432.05 323.87L434.50 322.09L436.95 323.87L436.01 320.99L438.46 319.21L435.44 319.21ZM434.50 318.33L433.56 321.21L430.54 321.21L432.99 322.99L432.05 325.87L434.50 324.09L436.95 325.87L436.01 322.99L438.46 321.21L435.44 321.21ZM434.50 319.83L433.56 322.71L430.54 322.71L432.99 324.49L432.05 327.37L434.50 325.59L436.95 327.37L436.01 324.49L438.46 322.71L435.44 322.71ZM435.50 317.33L434.56 320.21L431.54 320.21L433.99 321.99L433.05 324.87L435.50 323.09L437.95 324.87L437.01 321.99L439.46 320.21L436.44 320.21ZM435.50 318.33L434.56 321.21L431.54 321.21L433.99 322.99L433.05 325.87L435.50 324.09L437.95 325.87L437.01 322.99L439.46 321.21L436.44 321.21ZM435.50 319.83L434.56 322.71L431.54 322.71L433.99 324.49L433.05 327.37L435.50 325.59L437.95 327.37L437.01 324.49L439.46 322.71L436.44 322.71ZM436.50 317.33L435.56 320.21L432.54 320.21L434.99 321.99L434.05 324.87L436.50 323.09L438.95 324.87L438.01 321.99L440.46 320.21L437.44 320.21ZM436.50 318.33L435.56 321.21L432.54 321.21L434.99 322.99L434.05 325.87L436.50 324.09L438.95 325.87L438.01 322.99L440.46 321.21L437.44 321.21ZM436.50 319.83L435.56 322.71L432.54 322.71L434.99 324.49L434.05 327.37L436.50 325.59L438.95 327.37L438.01 324.49L440.46 322.71L437.44 322.71ZM437.50 317.33L436.56 320.21L433.54 320.21L435.99 321.99L435.05 324.87L437.50 323.09L439.95 324.87L439.01 321.99L441.46 320.21L438.44 320.21ZM437.50 318.33L436.56 321.21L433.54 321.21L435.99 322.99L435.05 325.87L437.50 324.09L439.95 325.87L439.01 322.99L441.46 321.21L438.44 321.21ZM437.50 319.83L436.56 322.71L433.54 322.71L435.99 324.49L435.05 327.37L437.50 325.59L439.95 327.37L439.01 324.49L441.46 322.71L438.44 322.71ZM438.50 317.33L437.56 320.21L434.54 320.21L436.99 321.99L436.05 324.87L438.50 323.09L440.95 324.87L440.01 321.99L442.46 320.21L439.44 320.21ZM438.50 318.33L437.56 321.21L434.54 321.21L436.99 322.99L436.05 325.87L438.50 324.09L440.95 325.87L440.01 322.99L442.46 321.21L439.44 321.21ZM438.50 319.83L437.56 322.71L434.54 322.71L436.99 324.49L436.05 327.37L438.50 325.59L440.95 327.37L440.01 324.49L442.46 322.71L439.44 322.71ZM439.50 317.33L438.56 320.21L435.54 320.21L437.99 321.99L437.05 324.87L439.50 323.09L441.95 324.87L441.01 321.99L443.46 320.21L440.44 320.21ZM439.50 318.33L438.56 321.21L435.54 321.21L437.99 322.99L437.05 325.87L439.50 324.09L441.95 325.87L441.01 322.99L443.46 321.21L440.44 321.21ZM439.50 319.83L438.56 322.71L435.54 322.71L437.99 324.49L437.05 327.37L439.50 325.59L441.95 327.37L441.01 324.49L443.46 322.71L440.44 322.71ZM440.50 317.33L439.56 320.21L436.54 320.21L438.99 321.99L438.05 324.87L440.50 323.09L442.95 324.87L442.01 321.99L444.46 320.21L441.44 320.21ZM440.50 318.33L439.56 321.21L436.54 321.21L438.99 322.99L438.05 325.87L440.50 324.09L442.95 325.87L442.01 322.99L444.46 321.21L441.44 321.21ZM440.50 319.83L439.56 322.71L436.54 322.71L438.99 324.49L438.05 327.37L440.50 325.59L442.95 327.37L442.01 324.49L444.46 322.71L441.44 322.71ZM441.50 317.33L440.56 320.21L437.54 320.21L439.99 321.99L439.05 324.87L441.50 323.09L443.95 324.87L443.01 321.99L445.46 320.21L442.44 320.21ZM441.50 318.33L440.56 321.21L437.54 321.21L439.99 322.99L439.05 325.87L441.50 324.09L443.95 325.87L443.01 322.99L445.46 321.21L442.44 321.21ZM441.50 319.83L440.56 322.71L437.54 322.71L439.99 324.49L439.05 327.37L441.50 325.59L443.95 327.37L443.01 324.49L445.46 322.71L442.44 322.71ZM442.50 317.33L441.56 320.21L438.54 320.21L440.99 321.99L440.05 324.87L442.50 323.09L444.95 324.87L444.01 321.99L446.46 320.21L443.44 320.21ZM442.50 318.33L441.56 321.21L438.54 321.21L440.99 322.99L440.05 325.87L442.50 324.09L444.95 325.87L444.01 322.99L446.46 321.21L443.44 321.21ZM442.50 319.83L441.56 322.71L438.54 322.71L440.99 324.49L440.05 327.37L442.50 325.59L444.95 327.37L444.01 324.49L446.46 322.71L443.44 322.71ZM443.50 317.33L442.56 320.21L439.54 320.21L441.99 321.99L441.05 324.87L443.50 323.09L445.95 324.87L445.01 321.99L447.46 320.21L444.44 320.21ZM443.50 318.33L442.56 321.21L439.54 321.21L441.99 322.99L441.05 325.87L443.50 324.09L445.95 325.87L445.01 322.99L447.46 321.21L444.44 321.21ZM443.50 319.83L442.56 322.71L439.54 322.71L441.99 324.49L441.05 327.37L443.50 325.59L445.95 327.37L445.01 324.49L447.46 322.71L444.44 322.71ZM444.50 317.33L443.56 320.21L440.54 320.21L442.99 321.99L442.05 324.87L444.50 323.09L446.95 324.87L446.01 321.99L448.46 320.21L445.44 320.21ZM444.50 318.33L443.56 321.21L440.54 321.21L442.99 322.99L442.05 325.87L444.50 324.09L446.95 325.87L446.01 322.99L448.46 321.21L445.44 321.21ZM444.50 319.83L443.56 322.71L440.54 322.71L442.99 324.49L442.05 327.37L444.50 325.59L446.95 327.37L446.01 324.49L448.46 322.71L445.44 322.71ZM445.50 317.33L444.56 320.21L441.54 320.21L443.99 321.99L443.05 324.87L445.50 323.09L447.95 324.87L447.01 321.99L449.46 320.21L446.44 320.21ZM445.50 318.33L444.56 321.21L441.54 321.21L443.99 322.99L443.05 325.87L445.50 324.09L447.95 325.87L447.01 322.99L449.46 321.21L446.44 321.21ZM445.50 319.83L444.56 322.71L441.54 322.71L443.99 324.49L443.05 327.37L445.50 325.59L447.95 327.37L447.01 324.49L449.46 322.71L446.44 322.71ZM446.50 317.33L445.56 320.21L442.54 320.21L444.99 321.99L444.05 324.87L446.50 323.09L448.95 324.87L448.01 321.99L450.46 320.21L447.44 320.21ZM446.50 318.33L445.56 321.21L442.54 321.21L444.99 322.99L444.05 325.87L446.50 324.09L448.95 325.87L448.01 322.99L450.46 321.21L447.44 321.21ZM446.50 319.83L445.56 322.71L442.54 322.71L444.99 324.49L444.05 327.37L446.50 325.59L448.95 327.37L448.01 324.49L450.46 322.71L447.44 322.71ZM447.50 317.33L446.56 320.21L443.54 320.21L445.99 321.99L445.05 324.87L447.50 323.09L449.95 324.87L449.01 321.99L451.46 320.21L448.44 320.21ZM447.50 318.33L446.56 321.21L443.54 321.21L445.99 322.99L445.05 325.87L447.50 324.09L449.95 325.87L449.01 322.99L451.46 321.21L448.44 321.21ZM447.50 319.83L446.56 322.71L443.54 322.71L445.99 324.49L445.05 327.37L447.50 325.59L449.95 327.37L449.01 324.49L451.46 322.71L448.44 322.71ZM448.50 317.33L447.56 320.21L444.54 320.21L446.99 321.99L446.05 324.87L448.50 323.09L450.95 324.87L450.01 321.99L452.46 320.21L449.44 320.21ZM448.50 318.33L447.56 321.21L444.54 321.21L446.99 322.99L446.05 325.87L448.50 324.09L450.95 325.87L450.01 322.99L452.46 321.21L449.44 321.21ZM448.50 319.83L447.56 322.71L444.54 322.71L446.99 324.49L446.05 327.37L448.50 325.59L450.95 327.37L450.01 324.49L452.46 322.71L449.44 322.71ZM449.50 317.33L448.56 320.21L445.54 320.21L447.99 321.99L447.05 324.87L449.50 323.09L451.95 324.87L451.01 321.99L453.46 320.21L450.44 320.21ZM449.50 318.33L448.56 321.21L445.54 321.21L447.99 322.99L447.05 325.87L449.50 324.09L451.95 325.87L451.01 322.99L453.46 321.21L450.44 321.21ZM449.50 319.83L448.56 322.71L445.54 322.71L447.99 324.49L447.05 327.37L449.50 325.59L451.95 327.37L451.01 324.49L453.46 322.71L450.44 322.71ZM450.50 317.33L449.56 320.21L446.54 320.21L448.99 321.99L448.05 324.87L450.50 323.09L452.95 324.87L452.01 321.99L454.46 320.21L451.44 320.21ZM450.50 318.33L449.56 321.21L446.54 321.21L448.99 322.99L448.05 325.87L450.50 324.09L452.95 325.87L452.01 322.99L454.46 321.21L451.44 321.21ZM450.50 319.83L449.56 322.71L446.54 322.71L448.99 324.49L448.05 327.37L450.50 325.59L452.95 327.37L452.01 324.49L454.46 322.71L451.44 322.71ZM451.50 317.33L450.56 320.21L447.54 320.21L449.99 321.99L449.05 324.87L451.50 323.09L453.95 324.87L453.01 321.99L455.46 320.21L452.44 320.21ZM451.50 318.33L450.56 321.21L447.54 321.21L449.99 322.99L449.05 325.87L451.50 324.09L453.95 325.87L453.01 322.99L455.46 321.21L452.44 321.21ZM451.50 319.83L450.56 322.71L447.54 322.71L449.99 324.49L449.05 327.37L451.50 325.59L453.95 327.37L453.01 324.49L455.46 322.71L452.44 322.71ZM452.50 317.33L451.56 320.21L448.54 320.21L450.99 321.99L450.05 324.87L452.50 323.09L454.95 324.87L454.01 321.99L456.46 320.21L453.44 320.21ZM452.50 318.33L451.56 321.21L448.54 321.21L450.99 322.99L450.05 325.87L452.50 324.09L454.95 325.87L454.01 322.99L456.46 321.21L453.44 321.21ZM452.50 319.83L451.56 322.71L448.54 322.71L450.99 324.49L450.05 327.37L452.50 325.59L454.95 327.37L454.01 324.49L456.46 322.71L453.44 322.71ZM453.50 317.33L452.56 320.21L449.54 320.21L451.99 321.99L451.05 324.87L453.50 323.09L455.95 324.87L455.01 321.99L457.46 320.21L454.44 320.21ZM453.50 318.33L452.56 321.21L449.54 321.21L451.99 322.99L451.05 325.87L453.50 324.09L455.95 325.87L455.01 322.99L457.46 321.21L454.44 321.21ZM453.50 319.83L452.56 322.71L449.54 322.71L451.99 324.49L451.05 327.37L453.50 325.59L455.95 327.37L455.01 324.49L457.46 322.71L454.44 322.71ZM454.50 317.33L453.56 320.21L450.54 320.21L452.99 321.99L452.05 324.87L454.50 323.09L456.95 324.87L456.01 321.99L458.46 320.21L455.44 320.21ZM454.50 318.33L453.56 321.21L450.54 321.21L452.99 322.99L452.05 325.87L454.50 324.09L456.95 325.87L456.01 322.99L458.46 321.21L455.44 321.21ZM454.50 319.83L453.56 322.71L450.54 322.71L452.99 324.49L452.05 327.37L454.50 325.59L456.95 327.37L456.01 324.49L458.46 322.71L455.44 322.71ZM455.50 317.33L454.56 320.21L451.54 320.21L453.99 321.99L453.05 324.87L455.50 323.09L457.95 324.87L457.01 321.99L459.46 320.21L456.44 320.21ZM455.50 318.33L454.56 321.21L451.54 321.21L453.99 322.99L453.05 325.87L455.50 324.09L457.95 325.87L457.01 322.99L459.46 321.21L456.44 321.21ZM455.50 319.83L454.56 322.71L451.54 322.71L453.99 324.49L453.05 327.37L455.50 325.59L457.95 327.37L457.01 324.49L459.46 322.71L456.44 322.71ZM456.50 317.33L455.56 320.21L452.54 320.21L454.99 321.99L454.05 324.87L456.50 323.09L458.95 324.87L458.01 321.99L460.46 320.21L457.44 320.21ZM456.50 318.33L455.56 321.21L452.54 321.21L454.99 322.99L454.05 325.87L456.50 324.09L458.95 325.87L458.01 322.99L460.46 321.21L457.44 321.21ZM456.50 319.83L455.56 322.71L452.54 322.71L454.99 324.49L454.05 327.37L456.50 325.59L458.95 327.37L458.01 324.49L460.46 322.71L457.44 322.71ZM457.50 317.33L456.56 320.21L453.54 320.21L455.99 321.99L455.05 324.87L457.50 323.09L459.95 324.87L459.01 321.99L461.46 320.21L458.44 320.21ZM457.50 318.33L456.56 321.21L453.54 321.21L455.99 322.99L455.05 325.87L457.50 324.09L459.95 325.87L459.01 322.99L461.46 321.21L458.44 321.21ZM457.50 319.83L456.56 322.71L453.54 322.71L455.99 324.49L455.05 327.37L457.50 325.59L459.95 327.37L459.01 324.49L461.46 322.71L458.44 322.71ZM458.50 317.33L457.56 320.21L454.54 320.21L456.99 321.99L456.05 324.87L458.50 323.09L460.95 324.87L460.01 321.99L462.46 320.21L459.44 320.21ZM458.50 319.33L457.56 322.21L454.54 322.21L456.99 323.99L456.05 326.87L458.50 325.09L460.95 326.87L460.01 323.99L462.46 322.21L459.44 322.21ZM458.50 320.83L457.56 323.71L454.54 323.71L456.99 325.49L456.05 328.37L458.50 326.59L460.95 328.37L460.01 325.49L462.46 323.71L459.44 323.71ZM459.50 317.33L458.56 320.21L455.54 320.21L457.99 321.99L457.05 324.87L459.50 323.09L461.95 324.87L461.01 321.99L463.46 320.21L460.44 320.21ZM459.50 319.33L458.56 322.21L455.54 322.21L457.99 323.99L457.05 326.87L459.50 325.09L461.95 326.87L461.01 323.99L463.46 322.21L460.44 322.21ZM459.50 320.83L458.56 323.71L455.54 323.71L457.99 325.49L457.05 328.37L459.50 326.59L461.95 328.37L461.01 325.49L463.46 323.71L460.44 323.71ZM460.50 317.33L459.56 320.21L456.54 320.21L458.99 321.99L458.05 324.87L460.50 323.09L462.95 324.87L462.01 321.99L464.46 320.21L461.44 320.21ZM460.50 319.33L459.56 322.21L456.54 322.21L458.99 323.99L458.05 326.87L460.50 325.09L462.95 326.87L462.01 323.99L464.46 322.21L461.44 322.21ZM460.50 320.83L459.56 323.71L456.54 323.71L458.99 325.49L458.05 328.37L460.50 326.59L462.95 328.37L462.01 325.49L464.46 323.71L461.44 323.71ZM461.50 317.33L460.56 320.21L457.54 320.21L459.99 321.99L459.05 324.87L461.50 323.09L463.95 324.87L463.01 321.99L465.46 320.21L462.44 320.21ZM461.50 319.33L460.56 322.21L457.54 322.21L459.99 323.99L459.05 326.87L461.50 325.09L463.95 326.87L463.01 323.99L465.46 322.21L462.44 322.21ZM461.50 320.83L460.56 323.71L457.54 323.71L459.99 325.49L459.05 328.37L461.50 326.59L463.95 328.37L463.01 325.49L465.46 323.71L462.44 323.71ZM462.50 317.33L461.56 320.21L458.54 320.21L460.99 321.99L460.05 324.87L462.50 323.09L464.95 324.87L464.01 321.99L466.46 320.21L463.44 320.21ZM462.50 319.33L461.56 322.21L458.54 322.21L460.99 323.99L460.05 326.87L462.50 325.09L464.95 326.87L464.01 323.99L466.46 322.21L463.44 322.21ZM462.50 320.83L461.56 323.71L458.54 323.71L460.99 325.49L460.05 328.37L462.50 326.59L464.95 328.37L464.01 325.49L466.46 323.71L463.44 323.71ZM463.50 317.33L462.56 320.21L459.54 320.21L461.99 321.99L461.05 324.87L463.50 323.09L465.95 324.87L465.01 321.99L467.46 320.21L464.44 320.21ZM463.50 319.33L462.56 322.21L459.54 322.21L461.99 323.99L461.05 326.87L463.50 325.09L465.95 326.87L465.01 323.99L467.46 322.21L464.44 322.21ZM463.50 320.83L462.56 323.71L459.54 323.71L461.99 325.49L461.05 328.37L463.50 326.59L465.95 328.37L465.01 325.49L467.46 323.71L464.44 323.71ZM464.50 317.33L463.56 320.21L460.54 320.21L462.99 321.99L462.05 324.87L464.50 323.09L466.95 324.87L466.01 321.99L468.46 320.21L465.44 320.21ZM464.50 319.33L463.56 322.21L460.54 322.21L462.99 323.99L462.05 326.87L464.50 325.09L466.95 326.87L466.01 323.99L468.46 322.21L465.44 322.21ZM464.50 320.83L463.56 323.71L460.54 323.71L462.99 325.49L462.05 328.37L464.50 326.59L466.95 328.37L466.01 325.49L468.46 323.71L465.44 323.71ZM465.50 317.33L464.56 320.21L461.54 320.21L463.99 321.99L463.05 324.87L465.50 323.09L467.95 324.87L467.01 321.99L469.46 320.21L466.44 320.21ZM465.50 319.33L464.56 322.21L461.54 322.21L463.99 323.99L463.05 326.87L465.50 325.09L467.95 326.87L467.01 323.99L469.46 322.21L466.44 322.21ZM465.50 320.83L464.56 323.71L461.54 323.71L463.99 325.49L463.05 328.37L465.50 326.59L467.95 328.37L467.01 325.49L469.46 323.71L466.44 323.71ZM466.50 317.33L465.56 320.21L462.54 320.21L464.99 321.99L464.05 324.87L466.50 323.09L468.95 324.87L468.01 321.99L470.46 320.21L467.44 320.21ZM466.50 319.33L465.56 322.21L462.54 322.21L464.99 323.99L464.05 326.87L466.50 325.09L468.95 326.87L468.01 323.99L470.46 322.21L467.44 322.21ZM466.50 320.83L465.56 323.71L462.54 323.71L464.99 325.49L464.05 328.37L466.50 326.59L468.95 328.37L468.01 325.49L470.46 323.71L467.44 323.71ZM467.50 317.33L466.56 320.21L463.54 320.21L465.99 321.99L465.05 324.87L467.50 323.09L469.95 324.87L469.01 321.99L471.46 320.21L468.44 320.21ZM467.50 319.33L466.56 322.21L463.54 322.21L465.99 323.99L465.05 326.87L467.50 325.09L469.95 326.87L469.01 323.99L471.46 322.21L468.44 322.21ZM467.50 320.83L466.56 323.71L463.54 323.71L465.99 325.49L465.05 328.37L467.50 326.59L469.95 328.37L469.01 325.49L471.46 323.71L468.44 323.71ZM468.50 317.33L467.56 320.21L464.54 320.21L466.99 321.99L466.05 324.87L468.50 323.09L470.95 324.87L470.01 321.99L472.46 320.21L469.44 320.21ZM468.50 319.33L467.56 322.21L464.54 322.21L466.99 323.99L466.05 326.87L468.50 325.09L470.95 326.87L470.01 323.99L472.46 322.21L469.44 322.21ZM468.50 320.83L467.56 323.71L464.54 323.71L466.99 325.49L466.05 328.37L468.50 326.59L470.95 328.37L470.01 325.49L472.46 323.71L469.44 323.71ZM469.50 317.33L468.56 320.21L465.54 320.21L467.99 321.99L467.05 324.87L469.50 323.09L471.95 324.87L471.01 321.99L473.46 320.21L470.44 320.21ZM469.50 319.33L468.56 322.21L465.54 322.21L467.99 323.99L467.05 326.87L469.50 325.09L471.95 326.87L471.01 323.99L473.46 322.21L470.44 322.21ZM469.50 320.83L468.56 323.71L465.54 323.71L467.99 325.49L467.05 328.37L469.50 326.59L471.95 328.37L471.01 325.49L473.46 323.71L470.44 323.71ZM470.50 317.33L469.56 320.21L466.54 320.21L468.99 321.99L468.05 324.87L470.50 323.09L472.95 324.87L472.01 321.99L474.46 320.21L471.44 320.21ZM470.50 319.33L469.56 322.21L466.54 322.21L468.99 323.99L468.05 326.87L470.50 325.09L472.95 326.87L472.01 323.99L474.46 322.21L471.44 322.21ZM470.50 320.83L469.56 323.71L466.54 323.71L468.99 325.49L468.05 328.37L470.50 326.59L472.95 328.37L472.01 325.49L474.46 323.71L471.44 323.71ZM471.50 317.33L470.56 320.21L467.54 320.21L469.99 321.99L469.05 324.87L471.50 323.09L473.95 324.87L473.01 321.99L475.46 320.21L472.44 320.21ZM471.50 319.33L470.56 322.21L467.54 322.21L469.99 323.99L469.05 326.87L471.50 325.09L473.95 326.87L473.01 323.99L475.46 322.21L472.44 322.21ZM471.50 320.83L470.56 323.71L467.54 323.71L469.99 325.49L469.05 328.37L471.50 326.59L473.95 328.37L473.01 325.49L475.46 323.71L472.44 323.71ZM472.50 317.33L471.56 320.21L468.54 320.21L470.99 321.99L470.05 324.87L472.50 323.09L474.95 324.87L474.01 321.99L476.46 320.21L473.44 320.21ZM472.50 319.33L471.56 322.21L468.54 322.21L470.99 323.99L470.05 326.87L472.50 325.09L474.95 326.87L474.01 323.99L476.46 322.21L473.44 322.21ZM472.50 320.83L471.56 323.71L468.54 323.71L470.99 325.49L470.05 328.37L472.50 326.59L474.95 328.37L474.01 325.49L476.46 323.71L473.44 323.71ZM473.50 317.33L472.56 320.21L469.54 320.21L471.99 321.99L471.05 324.87L473.50 323.09L475.95 324.87L475.01 321.99L477.46 320.21L474.44 320.21ZM473.50 319.33L472.56 322.21L469.54 322.21L471.99 323.99L471.05 326.87L473.50 325.09L475.95 326.87L475.01 323.99L477.46 322.21L474.44 322.21ZM473.50 320.83L472.56 323.71L469.54 323.71L471.99 325.49L471.05 328.37L473.50 326.59L475.95 328.37L475.01 325.49L477.46 323.71L474.44 323.71ZM474.50 317.33L473.56 320.21L470.54 320.21L472.99 321.99L472.05 324.87L474.50 323.09L476.95 324.87L476.01 321.99L478.46 320.21L475.44 320.21ZM474.50 319.33L473.56 322.21L470.54 322.21L472.99 323.99L472.05 326.87L474.50 325.09L476.95 326.87L476.01 323.99L478.46 322.21L475.44 322.21ZM474.50 320.83L473.56 323.71L470.54 323.71L472.99 325.49L472.05 328.37L474.50 326.59L476.95 328.37L476.01 325.49L478.46 323.71L475.44 323.71ZM475.50 318.33L474.56 321.21L471.54 321.21L473.99 322.99L473.05 325.87L475.50 324.09L477.95 325.87L477.01 322.99L479.46 321.21L476.44 321.21ZM475.50 319.33L474.56 322.21L471.54 322.21L473.99 323.99L473.05 326.87L475.50 325.09L477.95 326.87L477.01 323.99L479.46 322.21L476.44 322.21ZM475.50 320.83L474.56 323.71L471.54 323.71L473.99 325.49L473.05 328.37L475.50 326.59L477.95 328.37L477.01 325.49L479.46 323.71L476.44 323.71ZM476.50 318.33L475.56 321.21L472.54 321.21L474.99 322.99L474.05 325.87L476.50 324.09L478.95 325.87L478.01 322.99L480.46 321.21L477.44 321.21ZM476.50 319.33L475.56 322.21L472.54 322.21L474.99 323.99L474.05 326.87L476.50 325.09L478.95 326.87L478.01 323.99L480.46 322.21L477.44 322.21ZM476.50 320.83L475.56 323.71L472.54 323.71L474.99 325.49L474.05 328.37L476.50 326.59L478.95 328.37L478.01 325.49L480.46 323.71L477.44 323.71ZM477.50 318.33L476.56 321.21L473.54 321.21L475.99 322.99L475.05 325.87L477.50 324.09L479.95 325.87L479.01 322.99L481.46 321.21L478.44 321.21ZM477.50 319.33L476.56 322.21L473.54 322.21L475.99 323.99L475.05 326.87L477.50 325.09L479.95 326.87L479.01 323.99L481.46 322.21L478.44 322.21ZM477.50 320.83L476.56 323.71L473.54 323.71L475.99 325.49L475.05 328.37L477.50 326.59L479.95 328.37L479.01 325.49L481.46 323.71L478.44 323.71ZM478.50 318.33L477.56 321.21L474.54 321.21L476.99 322.99L476.05 325.87L478.50 324.09L480.95 325.87L480.01 322.99L482.46 321.21L479.44 321.21ZM478.50 319.33L477.56 322.21L474.54 322.21L476.99 323.99L476.05 326.87L478.50 325.09L480.95 326.87L480.01 323.99L482.46 322.21L479.44 322.21ZM478.50 320.83L477.56 323.71L474.54 323.71L476.99 325.49L476.05 328.37L478.50 326.59L480.95 328.37L480.01 325.49L482.46 323.71L479.44 323.71ZM479.50 318.33L478.56 321.21L475.54 321.21L477.99 322.99L477.05 325.87L479.50 324.09L481.95 325.87L481.01 322.99L483.46 321.21L480.44 321.21ZM479.50 319.33L478.56 322.21L475.54 322.21L477.99 323.99L477.05 326.87L479.50 325.09L481.95 326.87L481.01 323.99L483.46 322.21L480.44 322.21ZM479.50 320.83L478.56 323.71L475.54 323.71L477.99 325.49L477.05 328.37L479.50 326.59L481.95 328.37L481.01 325.49L483.46 323.71L480.44 323.71ZM480.50 318.33L479.56 321.21L476.54 321.21L478.99 322.99L478.05 325.87L480.50 324.09L482.95 325.87L482.01 322.99L484.46 321.21L481.44 321.21ZM480.50 319.33L479.56 322.21L476.54 322.21L478.99 323.99L478.05 326.87L480.50 325.09L482.95 326.87L482.01 323.99L484.46 322.21L481.44 322.21ZM480.50 320.83L479.56 323.71L476.54 323.71L478.99 325.49L478.05 328.37L480.50 326.59L482.95 328.37L482.01 325.49L484.46 323.71L481.44 323.71ZM481.50 318.33L480.56 321.21L477.54 321.21L479.99 322.99L479.05 325.87L481.50 324.09L483.95 325.87L483.01 322.99L485.46 321.21L482.44 321.21ZM481.50 319.33L480.56 322.21L477.54 322.21L479.99 323.99L479.05 326.87L481.50 325.09L483.95 326.87L483.01 323.99L485.46 322.21L482.44 322.21ZM481.50 320.83L480.56 323.71L477.54 323.71L479.99 325.49L479.05 328.37L481.50 326.59L483.95 328.37L483.01 325.49L485.46 323.71L482.44 323.71ZM482.50 318.33L481.56 321.21L478.54 321.21L480.99 322.99L480.05 325.87L482.50 324.09L484.95 325.87L484.01 322.99L486.46 321.21L483.44 321.21ZM482.50 319.33L481.56 322.21L478.54 322.21L480.99 323.99L480.05 326.87L482.50 325.09L484.95 326.87L484.01 323.99L486.46 322.21L483.44 322.21ZM482.50 320.83L481.56 323.71L478.54 323.71L480.99 325.49L480.05 328.37L482.50 326.59L484.95 328.37L484.01 325.49L486.46 323.71L483.44 323.71ZM483.50 318.33L482.56 321.21L479.54 321.21L481.99 322.99L481.05 325.87L483.50 324.09L485.95 325.87L485.01 322.99L487.46 321.21L484.44 321.21ZM483.50 319.33L482.56 322.21L479.54 322.21L481.99 323.99L481.05 326.87L483.50 325.09L485.95 326.87L485.01 323.99L487.46 322.21L484.44 322.21ZM483.50 320.83L482.56 323.71L479.54 323.71L481.99 325.49L481.05 328.37L483.50 326.59L485.95 328.37L485.01 325.49L487.46 323.71L484.44 323.71ZM484.50 318.33L483.56 321.21L480.54 321.21L482.99 322.99L482.05 325.87L484.50 324.09L486.95 325.87L486.01 322.99L488.46 321.21L485.44 321.21ZM484.50 319.33L483.56 322.21L480.54 322.21L482.99 323.99L482.05 326.87L484.50 325.09L486.95 326.87L486.01 323.99L488.46 322.21L485.44 322.21ZM484.50 320.83L483.56 323.71L480.54 323.71L482.99 325.49L482.05 328.37L484.50 326.59L486.95 328.37L486.01 325.49L488.46 323.71L485.44 323.71ZM485.50 318.33L484.56 321.21L481.54 321.21L483.99 322.99L483.05 325.87L485.50 324.09L487.95 325.87L487.01 322.99L489.46 321.21L486.44 321.21ZM485.50 319.33L484.56 322.21L481.54 322.21L483.99 323.99L483.05 326.87L485.50 325.09L487.95 326.87L487.01 323.99L489.46 322.21L486.44 322.21ZM485.50 320.83L484.56 323.71L481.54 323.71L483.99 325.49L483.05 328.37L485.50 326.59L487.95 328.37L487.01 325.49L489.46 323.71L486.44 323.71ZM486.50 318.33L485.56 321.21L482.54 321.21L484.99 322.99L484.05 325.87L486.50 324.09L488.95 325.87L488.01 322.99L490.46 321.21L487.44 321.21ZM486.50 319.33L485.56 322.21L482.54 322.21L484.99 323.99L484.05 326.87L486.50 325.09L488.95 326.87L488.01 323.99L490.46 322.21L487.44 322.21ZM486.50 320.83L485.56 323.71L482.54 323.71L484.99 325.49L484.05 328.37L486.50 326.59L488.95 328.37L488.01 325.49L490.46 323.71L487.44 323.71ZM487.50 318.33L486.56 321.21L483.54 321.21L485.99 322.99L485.05 325.87L487.50 324.09L489.95 325.87L489.01 322.99L491.46 321.21L488.44 321.21ZM487.50 319.33L486.56 322.21L483.54 322.21L485.99 323.99L485.05 326.87L487.50 325.09L489.95 326.87L489.01 323.99L491.46 322.21L488.44 322.21ZM487.50 320.83L486.56 323.71L483.54 323.71L485.99 325.49L485.05 328.37L487.50 326.59L489.95 328.37L489.01 325.49L491.46 323.71L488.44 323.71ZM488.50 319.33L487.56 322.21L484.54 322.21L486.99 323.99L486.05 326.87L488.50 325.09L490.95 326.87L490.01 323.99L492.46 322.21L489.44 322.21ZM488.50 320.33L487.56 323.21L484.54 323.21L486.99 324.99L486.05 327.87L488.50 326.09L490.95 327.87L490.01 324.99L492.46 323.21L489.44 323.21ZM488.50 320.83L487.56 323.71L484.54 323.71L486.99 325.49L486.05 328.37L488.50 326.59L490.95 328.37L490.01 325.49L492.46 323.71L489.44 323.71ZM489.50 319.33L488.56 322.21L485.54 322.21L487.99 323.99L487.05 326.87L489.50 325.09L491.95 326.87L491.01 323.99L493.46 322.21L490.44 322.21ZM489.50 320.33L488.56 323.21L485.54 323.21L487.99 324.99L487.05 327.87L489.50 326.09L491.95 327.87L491.01 324.99L493.46 323.21L490.44 323.21ZM489.50 320.83L488.56 323.71L485.54 323.71L487.99 325.49L487.05 328.37L489.50 326.59L491.95 328.37L491.01 325.49L493.46 323.71L490.44 323.71ZM490.50 319.33L489.56 322.21L486.54 322.21L488.99 323.99L488.05 326.87L490.50 325.09L492.95 326.87L492.01 323.99L494.46 322.21L491.44 322.21ZM490.50 320.33L489.56 323.21L486.54 323.21L488.99 324.99L488.05 327.87L490.50 326.09L492.95 327.87L492.01 324.99L494.46 323.21L491.44 323.21ZM490.50 320.83L489.56 323.71L486.54 323.71L488.99 325.49L488.05 328.37L490.50 326.59L492.95 328.37L492.01 325.49L494.46 323.71L491.44 323.71ZM491.50 319.33L490.56 322.21L487.54 322.21L489.99 323.99L489.05 326.87L491.50 325.09L493.95 326.87L493.01 323.99L495.46 322.21L492.44 322.21ZM491.50 320.33L490.56 323.21L487.54 323.21L489.99 324.99L489.05 327.87L491.50 326.09L493.95 327.87L493.01 324.99L495.46 323.21L492.44 323.21ZM491.50 320.83L490.56 323.71L487.54 323.71L489.99 325.49L489.05 328.37L491.50 326.59L493.95 328.37L493.01 325.49L495.46 323.71L492.44 323.71ZM492.50 319.33L491.56 322.21L488.54 322.21L490.99 323.99L490.05 326.87L492.50 325.09L494.95 326.87L494.01 323.99L496.46 322.21L493.44 322.21ZM492.50 320.33L491.56 323.21L488.54 323.21L490.99 324.99L490.05 327.87L492.50 326.09L494.95 327.87L494.01 324.99L496.46 323.21L493.44 323.21ZM492.50 320.83L491.56 323.71L488.54 323.71L490.99 325.49L490.05 328.37L492.50 326.59L494.95 328.37L494.01 325.49L496.46 323.71L493.44 323.71ZM493.50 319.33L492.56 322.21L489.54 322.21L491.99 323.99L491.05 326.87L493.50 325.09L495.95 326.87L495.01 323.99L497.46 322.21L494.44 322.21ZM493.50 320.33L492.56 323.21L489.54 323.21L491.99 324.99L491.05 327.87L493.50 326.09L495.95 327.87L495.01 324.99L497.46 323.21L494.44 323.21ZM493.50 320.83L492.56 323.71L489.54 323.71L491.99 325.49L491.05 328.37L493.50 326.59L495.95 328.37L495.01 325.49L497.46 323.71L494.44 323.71ZM494.50 319.33L493.56 322.21L490.54 322.21L492.99 323.99L492.05 326.87L494.50 325.09L496.95 326.87L496.01 323.99L498.46 322.21L495.44 322.21ZM494.50 320.33L493.56 323.21L490.54 323.21L492.99 324.99L492.05 327.87L494.50 326.09L496.95 327.87L496.01 324.99L498.46 323.21L495.44 323.21ZM494.50 320.83L493.56 323.71L490.54 323.71L492.99 325.49L492.05 328.37L494.50 326.59L496.95 328.37L496.01 325.49L498.46 323.71L495.44 323.71ZM495.50 319.33L494.56 322.21L491.54 322.21L493.99 323.99L493.05 326.87L495.50 325.09L497.95 326.87L497.01 323.99L499.46 322.21L496.44 322.21ZM495.50 320.33L494.56 323.21L491.54 323.21L493.99 324.99L493.05 327.87L495.50 326.09L497.95 327.87L497.01 324.99L499.46 323.21L496.44 323.21ZM495.50 320.83L494.56 323.71L491.54 323.71L493.99 325.49L493.05 328.37L495.50 326.59L497.95 328.37L497.01 325.49L499.46 323.71L496.44 323.71ZM496.50 319.33L495.56 322.21L492.54 322.21L494.99 323.99L494.05 326.87L496.50 325.09L498.95 326.87L498.01 323.99L500.46 322.21L497.44 322.21ZM496.50 320.33L495.56 323.21L492.54 323.21L494.99 324.99L494.05 327.87L496.50 326.09L498.95 327.87L498.01 324.99L500.46 323.21L497.44 323.21ZM496.50 320.83L495.56 323.71L492.54 323.71L494.99 325.49L494.05 328.37L496.50 326.59L498.95 328.37L498.01 325.49L500.46 323.71L497.44 323.71ZM497.50 319.33L496.56 322.21L493.54 322.21L495.99 323.99L495.05 326.87L497.50 325.09L499.95 326.87L499.01 323.99L501.46 322.21L498.44 322.21ZM497.50 320.33L496.56 323.21L493.54 323.21L495.99 324.99L495.05 327.87L497.50 326.09L499.95 327.87L499.01 324.99L501.46 323.21L498.44 323.21ZM497.50 320.83L496.56 323.71L493.54 323.71L495.99 325.49L495.05 328.37L497.50 326.59L499.95 328.37L499.01 325.49L501.46 323.71L498.44 323.71ZM498.50 319.33L497.56 322.21L494.54 322.21L496.99 323.99L496.05 326.87L498.50 325.09L500.95 326.87L500.01 323.99L502.46 322.21L499.44 322.21ZM498.50 320.33L497.56 323.21L494.54 323.21L496.99 324.99L496.05 327.87L498.50 326.09L500.95 327.87L500.01 324.99L502.46 323.21L499.44 323.21ZM498.50 320.83L497.56 323.71L494.54 323.71L496.99 325.49L496.05 328.37L498.50 326.59L500.95 328.37L500.01 325.49L502.46 323.71L499.44 323.71ZM499.50 319.33L498.56 322.21L495.54 322.21L497.99 323.99L497.05 326.87L499.50 325.09L501.95 326.87L501.01 323.99L503.46 322.21L500.44 322.21ZM499.50 320.33L498.56 323.21L495.54 323.21L497.99 324.99L497.05 327.87L499.50 326.09L501.95 327.87L501.01 324.99L503.46 323.21L500.44 323.21ZM499.50 320.83L498.56 323.71L495.54 323.71L497.99 325.49L497.05 328.37L499.50 326.59L501.95 328.37L501.01 325.49L503.46 323.71L500.44 323.71ZM500.50 319.33L499.56 322.21L496.54 322.21L498.99 323.99L498.05 326.87L500.50 325.09L502.95 326.87L502.01 323.99L504.46 322.21L501.44 322.21ZM500.50 320.33L499.56 323.21L496.54 323.21L498.99 324.99L498.05 327.87L500.50 326.09L502.95 327.87L502.01 324.99L504.46 323.21L501.44 323.21ZM500.50 320.83L499.56 323.71L496.54 323.71L498.99 325.49L498.05 328.37L500.50 326.59L502.95 328.37L502.01 325.49L504.46 323.71L501.44 323.71ZM501.50 320.33L500.56 323.21L497.54 323.21L499.99 324.99L499.05 327.87L501.50 326.09L503.95 327.87L503.01 324.99L505.46 323.21L502.44 323.21ZM501.50 321.33L500.56 324.21L497.54 324.21L499.99 325.99L499.05 328.87L501.50 327.09L503.95 328.87L503.01 325.99L505.46 324.21L502.44 324.21ZM501.50 321.63L500.56 324.51L497.54 324.51L499.99 326.29L499.05 329.17L501.50 327.39L503.95 329.17L503.01 326.29L505.46 324.51L502.44 324.51ZM502.50 320.33L501.56 323.21L498.54 323.21L500.99 324.99L500.05 327.87L502.50 326.09L504.95 327.87L504.01 324.99L506.46 323.21L503.44 323.21ZM502.50 321.33L501.56 324.21L498.54 324.21L500.99 325.99L500.05 328.87L502.50 327.09L504.95 328.87L504.01 325.99L506.46 324.21L503.44 324.21ZM502.50 321.63L501.56 324.51L498.54 324.51L500.99 326.29L500.05 329.17L502.50 327.39L504.95 329.17L504.01 326.29L506.46 324.51L503.44 324.51ZM503.50 320.33L502.56 323.21L499.54 323.21L501.99 324.99L501.05 327.87L503.50 326.09L505.95 327.87L505.01 324.99L507.46 323.21L504.44 323.21ZM503.50 321.33L502.56 324.21L499.54 324.21L501.99 325.99L501.05 328.87L503.50 327.09L505.95 328.87L505.01 325.99L507.46 324.21L504.44 324.21ZM503.50 321.63L502.56 324.51L499.54 324.51L501.99 326.29L501.05 329.17L503.50 327.39L505.95 329.17L505.01 326.29L507.46 324.51L504.44 324.51ZM504.50 320.33L503.56 323.21L500.54 323.21L502.99 324.99L502.05 327.87L504.50 326.09L506.95 327.87L506.01 324.99L508.46 323.21L505.44 323.21ZM504.50 321.33L503.56 324.21L500.54 324.21L502.99 325.99L502.05 328.87L504.50 327.09L506.95 328.87L506.01 325.99L508.46 324.21L505.44 324.21ZM504.50 321.63L503.56 324.51L500.54 324.51L502.99 326.29L502.05 329.17L504.50 327.39L506.95 329.17L506.01 326.29L508.46 324.51L505.44 324.51ZM505.50 320.33L504.56 323.21L501.54 323.21L503.99 324.99L503.05 327.87L505.50 326.09L507.95 327.87L507.01 324.99L509.46 323.21L506.44 323.21ZM505.50 321.33L504.56 324.21L501.54 324.21L503.99 325.99L503.05 328.87L505.50 327.09L507.95 328.87L507.01 325.99L509.46 324.21L506.44 324.21ZM505.50 321.63L504.56 324.51L501.54 324.51L503.99 326.29L503.05 329.17L505.50 327.39L507.95 329.17L507.01 326.29L509.46 324.51L506.44 324.51ZM506.50 320.33L505.56 323.21L502.54 323.21L504.99 324.99L504.05 327.87L506.50 326.09L508.95 327.87L508.01 324.99L510.46 323.21L507.44 323.21ZM506.50 321.33L505.56 324.21L502.54 324.21L504.99 325.99L504.05 328.87L506.50 327.09L508.95 328.87L508.01 325.99L510.46 324.21L507.44 324.21ZM506.50 321.63L505.56 324.51L502.54 324.51L504.99 326.29L504.05 329.17L506.50 327.39L508.95 329.17L508.01 326.29L510.46 324.51L507.44 324.51ZM507.50 320.33L506.56 323.21L503.54 323.21L505.99 324.99L505.05 327.87L507.50 326.09L509.95 327.87L509.01 324.99L511.46 323.21L508.44 323.21ZM507.50 321.33L506.56 324.21L503.54 324.21L505.99 325.99L505.05 328.87L507.50 327.09L509.95 328.87L509.01 325.99L511.46 324.21L508.44 324.21ZM507.50 321.63L506.56 324.51L503.54 324.51L505.99 326.29L505.05 329.17L507.50 327.39L509.95 329.17L509.01 326.29L511.46 324.51L508.44 324.51ZM508.50 320.33L507.56 323.21L504.54 323.21L506.99 324.99L506.05 327.87L508.50 326.09L510.95 327.87L510.01 324.99L512.46 323.21L509.44 323.21ZM508.50 321.33L507.56 324.21L504.54 324.21L506.99 325.99L506.05 328.87L508.50 327.09L510.95 328.87L510.01 325.99L512.46 324.21L509.44 324.21ZM508.50 321.63L507.56 324.51L504.54 324.51L506.99 326.29L506.05 329.17L508.50 327.39L510.95 329.17L510.01 326.29L512.46 324.51L509.44 324.51ZM509.50 320.33L508.56 323.21L505.54 323.21L507.99 324.99L507.05 327.87L509.50 326.09L511.95 327.87L511.01 324.99L513.46 323.21L510.44 323.21ZM509.50 321.33L508.56 324.21L505.54 324.21L507.99 325.99L507.05 328.87L509.50 327.09L511.95 328.87L511.01 325.99L513.46 324.21L510.44 324.21ZM509.50 321.63L508.56 324.51L505.54 324.51L507.99 326.29L507.05 329.17L509.50 327.39L511.95 329.17L511.01 326.29L513.46 324.51L510.44 324.51ZM510.50 320.33L509.56 323.21L506.54 323.21L508.99 324.99L508.05 327.87L510.50 326.09L512.95 327.87L512.01 324.99L514.46 323.21L511.44 323.21ZM510.50 321.33L509.56 324.21L506.54 324.21L508.99 325.99L508.05 328.87L510.50 327.09L512.95 328.87L512.01 325.99L514.46 324.21L511.44 324.21ZM510.50 321.63L509.56 324.51L506.54 324.51L508.99 326.29L508.05 329.17L510.50 327.39L512.95 329.17L512.01 326.29L514.46 324.51L511.44 324.51ZM511.50 320.33L510.56 323.21L507.54 323.21L509.99 324.99L509.05 327.87L511.50 326.09L513.95 327.87L513.01 324.99L515.46 323.21L512.44 323.21ZM511.50 321.33L510.56 324.21L507.54 324.21L509.99 325.99L509.05 328.87L511.50 327.09L513.95 328.87L513.01 325.99L515.46 324.21L512.44 324.21ZM511.50 321.63L510.56 324.51L507.54 324.51L509.99 326.29L509.05 329.17L511.50 327.39L513.95 329.17L513.01 326.29L515.46 324.51L512.44 324.51ZM512.50 320.33L511.56 323.21L508.54 323.21L510.99 324.99L510.05 327.87L512.50 326.09L514.95 327.87L514.01 324.99L516.46 323.21L513.44 323.21ZM512.50 321.33L511.56 324.21L508.54 324.21L510.99 325.99L510.05 328.87L512.50 327.09L514.95 328.87L514.01 325.99L516.46 324.21L513.44 324.21ZM512.50 321.63L511.56 324.51L508.54 324.51L510.99 326.29L510.05 329.17L512.50 327.39L514.95 329.17L514.01 326.29L516.46 324.51L513.44 324.51ZM513.50 320.33L512.56 323.21L509.54 323.21L511.99 324.99L511.05 327.87L513.50 326.09L515.95 327.87L515.01 324.99L517.46 323.21L514.44 323.21ZM513.50 321.33L512.56 324.21L509.54 324.21L511.99 325.99L511.05 328.87L513.50 327.09L515.95 328.87L515.01 325.99L517.46 324.21L514.44 324.21ZM513.50 321.63L512.56 324.51L509.54 324.51L511.99 326.29L511.05 329.17L513.50 327.39L515.95 329.17L515.01 326.29L517.46 324.51L514.44 324.51ZM514.50 320.33L513.56 323.21L510.54 323.21L512.99 324.99L512.05 327.87L514.50 326.09L516.95 327.87L516.01 324.99L518.46 323.21L515.44 323.21ZM514.50 321.33L513.56 324.21L510.54 324.21L512.99 325.99L512.05 328.87L514.50 327.09L516.95 328.87L516.01 325.99L518.46 324.21L515.44 324.21ZM514.50 321.63L513.56 324.51L510.54 324.51L512.99 326.29L512.05 329.17L514.50 327.39L516.95 329.17L516.01 326.29L518.46 324.51L515.44 324.51ZM515.50 320.33L514.56 323.21L511.54 323.21L513.99 324.99L513.05 327.87L515.50 326.09L517.95 327.87L517.01 324.99L519.46 323.21L516.44 323.21ZM515.50 321.33L514.56 324.21L511.54 324.21L513.99 325.99L513.05 328.87L515.50 327.09L517.95 328.87L517.01 325.99L519.46 324.21L516.44 324.21ZM515.50 321.63L514.56 324.51L511.54 324.51L513.99 326.29L513.05 329.17L515.50 327.39L517.95 329.17L517.01 326.29L519.46 324.51L516.44 324.51ZM516.50 320.33L515.56 323.21L512.54 323.21L514.99 324.99L514.05 327.87L516.50 326.09L518.95 327.87L518.01 324.99L520.46 323.21L517.44 323.21ZM516.50 321.33L515.56 324.21L512.54 324.21L514.99 325.99L514.05 328.87L516.50 327.09L518.95 328.87L518.01 325.99L520.46 324.21L517.44 324.21ZM516.50 321.63L515.56 324.51L512.54 324.51L514.99 326.29L514.05 329.17L516.50 327.39L518.95 329.17L518.01 326.29L520.46 324.51L517.44 324.51ZM517.50 320.33L516.56 323.21L513.54 323.21L515.99 324.99L515.05 327.87L517.50 326.09L519.95 327.87L519.01 324.99L521.46 323.21L518.44 323.21ZM517.50 321.33L516.56 324.21L513.54 324.21L515.99 325.99L515.05 328.87L517.50 327.09L519.95 328.87L519.01 325.99L521.46 324.21L518.44 324.21ZM517.50 321.63L516.56 324.51L513.54 324.51L515.99 326.29L515.05 329.17L517.50 327.39L519.95 329.17L519.01 326.29L521.46 324.51L518.44 324.51ZM518.50 320.33L517.56 323.21L514.54 323.21L516.99 324.99L516.05 327.87L518.50 326.09L520.95 327.87L520.01 324.99L522.46 323.21L519.44 323.21ZM518.50 321.33L517.56 324.21L514.54 324.21L516.99 325.99L516.05 328.87L518.50 327.09L520.95 328.87L520.01 325.99L522.46 324.21L519.44 324.21ZM518.50 321.63L517.56 324.51L514.54 324.51L516.99 326.29L516.05 329.17L518.50 327.39L520.95 329.17L520.01 326.29L522.46 324.51L519.44 324.51ZM519.50 320.33L518.56 323.21L515.54 323.21L517.99 324.99L517.05 327.87L519.50 326.09L521.95 327.87L521.01 324.99L523.46 323.21L520.44 323.21ZM519.50 321.33L518.56 324.21L515.54 324.21L517.99 325.99L517.05 328.87L519.50 327.09L521.95 328.87L521.01 325.99L523.46 324.21L520.44 324.21ZM519.50 321.63L518.56 324.51L515.54 324.51L517.99 326.29L517.05 329.17L519.50 327.39L521.95 329.17L521.01 326.29L523.46 324.51L520.44 324.51ZM520.50 320.33L519.56 323.21L516.54 323.21L518.99 324.99L518.05 327.87L520.50 326.09L522.95 327.87L522.01 324.99L524.46 323.21L521.44 323.21ZM520.50 321.33L519.56 324.21L516.54 324.21L518.99 325.99L518.05 328.87L520.50 327.09L522.95 328.87L522.01 325.99L524.46 324.21L521.44 324.21ZM520.50 321.63L519.56 324.51L516.54 324.51L518.99 326.29L518.05 329.17L520.50 327.39L522.95 329.17L522.01 326.29L524.46 324.51L521.44 324.51ZM521.50 320.33L520.56 323.21L517.54 323.21L519.99 324.99L519.05 327.87L521.50 326.09L523.95 327.87L523.01 324.99L525.46 323.21L522.44 323.21ZM521.50 321.33L520.56 324.21L517.54 324.21L519.99 325.99L519.05 328.87L521.50 327.09L523.95 328.87L523.01 325.99L525.46 324.21L522.44 324.21ZM521.50 322.83L520.56 325.71L517.54 325.71L519.99 327.49L519.05 330.37L521.50 328.59L523.95 330.37L523.01 327.49L525.46 325.71L522.44 325.71ZM522.50 320.33L521.56 323.21L518.54 323.21L520.99 324.99L520.05 327.87L522.50 326.09L524.95 327.87L524.01 324.99L526.46 323.21L523.44 323.21ZM522.50 321.33L521.56 324.21L518.54 324.21L520.99 325.99L520.05 328.87L522.50 327.09L524.95 328.87L524.01 325.99L526.46 324.21L523.44 324.21ZM522.50 322.83L521.56 325.71L518.54 325.71L520.99 327.49L520.05 330.37L522.50 328.59L524.95 330.37L524.01 327.49L526.46 325.71L523.44 325.71ZM523.50 320.33L522.56 323.21L519.54 323.21L521.99 324.99L521.05 327.87L523.50 326.09L525.95 327.87L525.01 324.99L527.46 323.21L524.44 323.21ZM523.50 321.33L522.56 324.21L519.54 324.21L521.99 325.99L521.05 328.87L523.50 327.09L525.95 328.87L525.01 325.99L527.46 324.21L524.44 324.21ZM523.50 322.83L522.56 325.71L519.54 325.71L521.99 327.49L521.05 330.37L523.50 328.59L525.95 330.37L525.01 327.49L527.46 325.71L524.44 325.71ZM524.50 320.33L523.56 323.21L520.54 323.21L522.99 324.99L522.05 327.87L524.50 326.09L526.95 327.87L526.01 324.99L528.46 323.21L525.44 323.21ZM524.50 321.33L523.56 324.21L520.54 324.21L522.99 325.99L522.05 328.87L524.50 327.09L526.95 328.87L526.01 325.99L528.46 324.21L525.44 324.21ZM524.50 322.83L523.56 325.71L520.54 325.71L522.99 327.49L522.05 330.37L524.50 328.59L526.95 330.37L526.01 327.49L528.46 325.71L525.44 325.71ZM525.50 320.33L524.56 323.21L521.54 323.21L523.99 324.99L523.05 327.87L525.50 326.09L527.95 327.87L527.01 324.99L529.46 323.21L526.44 323.21ZM525.50 321.33L524.56 324.21L521.54 324.21L523.99 325.99L523.05 328.87L525.50 327.09L527.95 328.87L527.01 325.99L529.46 324.21L526.44 324.21ZM525.50 322.83L524.56 325.71L521.54 325.71L523.99 327.49L523.05 330.37L525.50 328.59L527.95 330.37L527.01 327.49L529.46 325.71L526.44 325.71ZM526.50 321.33L525.56 324.21L522.54 324.21L524.99 325.99L524.05 328.87L526.50 327.09L528.95 328.87L528.01 325.99L530.46 324.21L527.44 324.21ZM526.50 322.33L525.56 325.21L522.54 325.21L524.99 326.99L524.05 329.87L526.50 328.09L528.95 329.87L528.01 326.99L530.46 325.21L527.44 325.21ZM526.50 322.83L525.56 325.71L522.54 325.71L524.99 327.49L524.05 330.37L526.50 328.59L528.95 330.37L528.01 327.49L530.46 325.71L527.44 325.71ZM527.50 321.33L526.56 324.21L523.54 324.21L525.99 325.99L525.05 328.87L527.50 327.09L529.95 328.87L529.01 325.99L531.46 324.21L528.44 324.21ZM527.50 322.33L526.56 325.21L523.54 325.21L525.99 326.99L525.05 329.87L527.50 328.09L529.95 329.87L529.01 326.99L531.46 325.21L528.44 325.21ZM527.50 322.83L526.56 325.71L523.54 325.71L525.99 327.49L525.05 330.37L527.50 328.59L529.95 330.37L529.01 327.49L531.46 325.71L528.44 325.71ZM528.50 321.33L527.56 324.21L524.54 324.21L526.99 325.99L526.05 328.87L528.50 327.09L530.95 328.87L530.01 325.99L532.46 324.21L529.44 324.21ZM528.50 322.33L527.56 325.21L524.54 325.21L526.99 326.99L526.05 329.87L528.50 328.09L530.95 329.87L530.01 326.99L532.46 325.21L529.44 325.21ZM528.50 322.83L527.56 325.71L524.54 325.71L526.99 327.49L526.05 330.37L528.50 328.59L530.95 330.37L530.01 327.49L532.46 325.71L529.44 325.71ZM529.50 321.33L528.56 324.21L525.54 324.21L527.99 325.99L527.05 328.87L529.50 327.09L531.95 328.87L531.01 325.99L533.46 324.21L530.44 324.21ZM529.50 322.33L528.56 325.21L525.54 325.21L527.99 326.99L527.05 329.87L529.50 328.09L531.95 329.87L531.01 326.99L533.46 325.21L530.44 325.21ZM529.50 322.83L528.56 325.71L525.54 325.71L527.99 327.49L527.05 330.37L529.50 328.59L531.95 330.37L531.01 327.49L533.46 325.71L530.44 325.71ZM530.50 321.33L529.56 324.21L526.54 324.21L528.99 325.99L528.05 328.87L530.50 327.09L532.95 328.87L532.01 325.99L534.46 324.21L531.44 324.21ZM530.50 322.33L529.56 325.21L526.54 325.21L528.99 326.99L528.05 329.87L530.50 328.09L532.95 329.87L532.01 326.99L534.46 325.21L531.44 325.21ZM530.50 322.83L529.56 325.71L526.54 325.71L528.99 327.49L528.05 330.37L530.50 328.59L532.95 330.37L532.01 327.49L534.46 325.71L531.44 325.71ZM531.50 321.33L530.56 324.21L527.54 324.21L529.99 325.99L529.05 328.87L531.50 327.09L533.95 328.87L533.01 325.99L535.46 324.21L532.44 324.21ZM531.50 322.33L530.56 325.21L527.54 325.21L529.99 326.99L529.05 329.87L531.50 328.09L533.95 329.87L533.01 326.99L535.46 325.21L532.44 325.21ZM531.50 322.83L530.56 325.71L527.54 325.71L529.99 327.49L529.05 330.37L531.50 328.59L533.95 330.37L533.01 327.49L535.46 325.71L532.44 325.71ZM532.50 321.33L531.56 324.21L528.54 324.21L530.99 325.99L530.05 328.87L532.50 327.09L534.95 328.87L534.01 325.99L536.46 324.21L533.44 324.21ZM532.50 322.33L531.56 325.21L528.54 325.21L530.99 326.99L530.05 329.87L532.50 328.09L534.95 329.87L534.01 326.99L536.46 325.21L533.44 325.21ZM532.50 322.83L531.56 325.71L528.54 325.71L530.99 327.49L530.05 330.37L532.50 328.59L534.95 330.37L534.01 327.49L536.46 325.71L533.44 325.71ZM533.50 321.33L532.56 324.21L529.54 324.21L531.99 325.99L531.05 328.87L533.50 327.09L535.95 328.87L535.01 325.99L537.46 324.21L534.44 324.21ZM533.50 322.33L532.56 325.21L529.54 325.21L531.99 326.99L531.05 329.87L533.50 328.09L535.95 329.87L535.01 326.99L537.46 325.21L534.44 325.21ZM533.50 322.83L532.56 325.71L529.54 325.71L531.99 327.49L531.05 330.37L533.50 328.59L535.95 330.37L535.01 327.49L537.46 325.71L534.44 325.71ZM534.50 321.33L533.56 324.21L530.54 324.21L532.99 325.99L532.05 328.87L534.50 327.09L536.95 328.87L536.01 325.99L538.46 324.21L535.44 324.21ZM534.50 322.33L533.56 325.21L530.54 325.21L532.99 326.99L532.05 329.87L534.50 328.09L536.95 329.87L536.01 326.99L538.46 325.21L535.44 325.21ZM534.50 322.83L533.56 325.71L530.54 325.71L532.99 327.49L532.05 330.37L534.50 328.59L536.95 330.37L536.01 327.49L538.46 325.71L535.44 325.71ZM535.50 321.33L534.56 324.21L531.54 324.21L533.99 325.99L533.05 328.87L535.50 327.09L537.95 328.87L537.01 325.99L539.46 324.21L536.44 324.21ZM535.50 322.33L534.56 325.21L531.54 325.21L533.99 326.99L533.05 329.87L535.50 328.09L537.95 329.87L537.01 326.99L539.46 325.21L536.44 325.21ZM535.50 322.83L534.56 325.71L531.54 325.71L533.99 327.49L533.05 330.37L535.50 328.59L537.95 330.37L537.01 327.49L539.46 325.71L536.44 325.71ZM536.50 321.33L535.56 324.21L532.54 324.21L534.99 325.99L534.05 328.87L536.50 327.09L538.95 328.87L538.01 325.99L540.46 324.21L537.44 324.21ZM536.50 322.33L535.56 325.21L532.54 325.21L534.99 326.99L534.05 329.87L536.50 328.09L538.95 329.87L538.01 326.99L540.46 325.21L537.44 325.21ZM536.50 322.83L535.56 325.71L532.54 325.71L534.99 327.49L534.05 330.37L536.50 328.59L538.95 330.37L538.01 327.49L540.46 325.71L537.44 325.71ZM537.50 321.33L536.56 324.21L533.54 324.21L535.99 325.99L535.05 328.87L537.50 327.09L539.95 328.87L539.01 325.99L541.46 324.21L538.44 324.21ZM537.50 322.33L536.56 325.21L533.54 325.21L535.99 326.99L535.05 329.87L537.50 328.09L539.95 329.87L539.01 326.99L541.46 325.21L538.44 325.21ZM537.50 322.83L536.56 325.71L533.54 325.71L535.99 327.49L535.05 330.37L537.50 328.59L539.95 330.37L539.01 327.49L541.46 325.71L538.44 325.71ZM538.50 321.33L537.56 324.21L534.54 324.21L536.99 325.99L536.05 328.87L538.50 327.09L540.95 328.87L540.01 325.99L542.46 324.21L539.44 324.21ZM538.50 322.33L537.56 325.21L534.54 325.21L536.99 326.99L536.05 329.87L538.50 328.09L540.95 329.87L540.01 326.99L542.46 325.21L539.44 325.21ZM538.50 322.83L537.56 325.71L534.54 325.71L536.99 327.49L536.05 330.37L538.50 328.59L540.95 330.37L540.01 327.49L542.46 325.71L539.44 325.71ZM539.50 321.33L538.56 324.21L535.54 324.21L537.99 325.99L537.05 328.87L539.50 327.09L541.95 328.87L541.01 325.99L543.46 324.21L540.44 324.21ZM539.50 322.33L538.56 325.21L535.54 325.21L537.99 326.99L537.05 329.87L539.50 328.09L541.95 329.87L541.01 326.99L543.46 325.21L540.44 325.21ZM539.50 322.83L538.56 325.71L535.54 325.71L537.99 327.49L537.05 330.37L539.50 328.59L541.95 330.37L541.01 327.49L543.46 325.71L540.44 325.71ZM540.50 321.33L539.56 324.21L536.54 324.21L538.99 325.99L538.05 328.87L540.50 327.09L542.95 328.87L542.01 325.99L544.46 324.21L541.44 324.21ZM540.50 322.33L539.56 325.21L536.54 325.21L538.99 326.99L538.05 329.87L540.50 328.09L542.95 329.87L542.01 326.99L544.46 325.21L541.44 325.21ZM540.50 322.83L539.56 325.71L536.54 325.71L538.99 327.49L538.05 330.37L540.50 328.59L542.95 330.37L542.01 327.49L544.46 325.71L541.44 325.71ZM541.50 321.33L540.56 324.21L537.54 324.21L539.99 325.99L539.05 328.87L541.50 327.09L543.95 328.87L543.01 325.99L545.46 324.21L542.44 324.21ZM541.50 322.33L540.56 325.21L537.54 325.21L539.99 326.99L539.05 329.87L541.50 328.09L543.95 329.87L543.01 326.99L545.46 325.21L542.44 325.21ZM541.50 323.83L540.56 326.71L537.54 326.71L539.99 328.49L539.05 331.37L541.50 329.59L543.95 331.37L543.01 328.49L545.46 326.71L542.44 326.71ZM542.50 321.33L541.56 324.21L538.54 324.21L540.99 325.99L540.05 328.87L542.50 327.09L544.95 328.87L544.01 325.99L546.46 324.21L543.44 324.21ZM542.50 322.33L541.56 325.21L538.54 325.21L540.99 326.99L540.05 329.87L542.50 328.09L544.95 329.87L544.01 326.99L546.46 325.21L543.44 325.21ZM542.50 323.83L541.56 326.71L538.54 326.71L540.99 328.49L540.05 331.37L542.50 329.59L544.95 331.37L544.01 328.49L546.46 326.71L543.44 326.71ZM543.50 321.33L542.56 324.21L539.54 324.21L541.99 325.99L541.05 328.87L543.50 327.09L545.95 328.87L545.01 325.99L547.46 324.21L544.44 324.21ZM543.50 322.33L542.56 325.21L539.54 325.21L541.99 326.99L541.05 329.87L543.50 328.09L545.95 329.87L545.01 326.99L547.46 325.21L544.44 325.21ZM543.50 323.83L542.56 326.71L539.54 326.71L541.99 328.49L541.05 331.37L543.50 329.59L545.95 331.37L545.01 328.49L547.46 326.71L544.44 326.71ZM544.50 321.33L543.56 324.21L540.54 324.21L542.99 325.99L542.05 328.87L544.50 327.09L546.95 328.87L546.01 325.99L548.46 324.21L545.44 324.21ZM544.50 322.33L543.56 325.21L540.54 325.21L542.99 326.99L542.05 329.87L544.50 328.09L546.95 329.87L546.01 326.99L548.46 325.21L545.44 325.21ZM544.50 323.83L543.56 326.71L540.54 326.71L542.99 328.49L542.05 331.37L544.50 329.59L546.95 331.37L546.01 328.49L548.46 326.71L545.44 326.71ZM545.50 321.33L544.56 324.21L541.54 324.21L543.99 325.99L543.05 328.87L545.50 327.09L547.95 328.87L547.01 325.99L549.46 324.21L546.44 324.21ZM545.50 322.33L544.56 325.21L541.54 325.21L543.99 326.99L543.05 329.87L545.50 328.09L547.95 329.87L547.01 326.99L549.46 325.21L546.44 325.21ZM545.50 323.83L544.56 326.71L541.54 326.71L543.99 328.49L543.05 331.37L545.50 329.59L547.95 331.37L547.01 328.49L549.46 326.71L546.44 326.71ZM546.50 321.33L545.56 324.21L542.54 324.21L544.99 325.99L544.05 328.87L546.50 327.09L548.95 328.87L548.01 325.99L550.46 324.21L547.44 324.21ZM546.50 322.33L545.56 325.21L542.54 325.21L544.99 326.99L544.05 329.87L546.50 328.09L548.95 329.87L548.01 326.99L550.46 325.21L547.44 325.21ZM546.50 323.83L545.56 326.71L542.54 326.71L544.99 328.49L544.05 331.37L546.50 329.59L548.95 331.37L548.01 328.49L550.46 326.71L547.44 326.71ZM547.50 321.33L546.56 324.21L543.54 324.21L545.99 325.99L545.05 328.87L547.50 327.09L549.95 328.87L549.01 325.99L551.46 324.21L548.44 324.21ZM547.50 322.33L546.56 325.21L543.54 325.21L545.99 326.99L545.05 329.87L547.50 328.09L549.95 329.87L549.01 326.99L551.46 325.21L548.44 325.21ZM547.50 323.83L546.56 326.71L543.54 326.71L545.99 328.49L545.05 331.37L547.50 329.59L549.95 331.37L549.01 328.49L551.46 326.71L548.44 326.71ZM548.50 321.33L547.56 324.21L544.54 324.21L546.99 325.99L546.05 328.87L548.50 327.09L550.95 328.87L550.01 325.99L552.46 324.21L549.44 324.21ZM548.50 322.33L547.56 325.21L544.54 325.21L546.99 326.99L546.05 329.87L548.50 328.09L550.95 329.87L550.01 326.99L552.46 325.21L549.44 325.21ZM548.50 323.83L547.56 326.71L544.54 326.71L546.99 328.49L546.05 331.37L548.50 329.59L550.95 331.37L550.01 328.49L552.46 326.71L549.44 326.71ZM549.50 321.33L548.56 324.21L545.54 324.21L547.99 325.99L547.05 328.87L549.50 327.09L551.95 328.87L551.01 325.99L553.46 324.21L550.44 324.21ZM549.50 322.33L548.56 325.21L545.54 325.21L547.99 326.99L547.05 329.87L549.50 328.09L551.95 329.87L551.01 326.99L553.46 325.21L550.44 325.21ZM549.50 323.83L548.56 326.71L545.54 326.71L547.99 328.49L547.05 331.37L549.50 329.59L551.95 331.37L551.01 328.49L553.46 326.71L550.44 326.71ZM550.50 321.33L549.56 324.21L546.54 324.21L548.99 325.99L548.05 328.87L550.50 327.09L552.95 328.87L552.01 325.99L554.46 324.21L551.44 324.21ZM550.50 322.33L549.56 325.21L546.54 325.21L548.99 326.99L548.05 329.87L550.50 328.09L552.95 329.87L552.01 326.99L554.46 325.21L551.44 325.21ZM550.50 323.83L549.56 326.71L546.54 326.71L548.99 328.49L548.05 331.37L550.50 329.59L552.95 331.37L552.01 328.49L554.46 326.71L551.44 326.71ZM551.50 321.33L550.56 324.21L547.54 324.21L549.99 325.99L549.05 328.87L551.50 327.09L553.95 328.87L553.01 325.99L555.46 324.21L552.44 324.21ZM551.50 322.33L550.56 325.21L547.54 325.21L549.99 326.99L549.05 329.87L551.50 328.09L553.95 329.87L553.01 326.99L555.46 325.21L552.44 325.21ZM551.50 323.83L550.56 326.71L547.54 326.71L549.99 328.49L549.05 331.37L551.50 329.59L553.95 331.37L553.01 328.49L555.46 326.71L552.44 326.71ZM552.50 321.33L551.56 324.21L548.54 324.21L550.99 325.99L550.05 328.87L552.50 327.09L554.95 328.87L554.01 325.99L556.46 324.21L553.44 324.21ZM552.50 322.33L551.56 325.21L548.54 325.21L550.99 326.99L550.05 329.87L552.50 328.09L554.95 329.87L554.01 326.99L556.46 325.21L553.44 325.21ZM552.50 323.33L551.56 326.21L548.54 326.21L550.99 327.99L550.05 330.87L552.50 329.09L554.95 330.87L554.01 327.99L556.46 326.21L553.44 326.21ZM552.50 323.83L551.56 326.71L548.54 326.71L550.99 328.49L550.05 331.37L552.50 329.59L554.95 331.37L554.01 328.49L556.46 326.71L553.44 326.71ZM553.50 321.33L552.56 324.21L549.54 324.21L551.99 325.99L551.05 328.87L553.50 327.09L555.95 328.87L555.01 325.99L557.46 324.21L554.44 324.21ZM553.50 322.33L552.56 325.21L549.54 325.21L551.99 326.99L551.05 329.87L553.50 328.09L555.95 329.87L555.01 326.99L557.46 325.21L554.44 325.21ZM553.50 323.33L552.56 326.21L549.54 326.21L551.99 327.99L551.05 330.87L553.50 329.09L555.95 330.87L555.01 327.99L557.46 326.21L554.44 326.21ZM553.50 323.83L552.56 326.71L549.54 326.71L551.99 328.49L551.05 331.37L553.50 329.59L555.95 331.37L555.01 328.49L557.46 326.71L554.44 326.71Z" style="fill:#008000;stroke:#008000;stroke-width:1.3889;stroke-linejoin:bevel"/>
<path d="M80.5 58.5 V427.5 M576.5 58.5 V427.5 M80.5 427.5 H576.5 M80.5 58.5 H576.5" style="fill:none;stroke:#000;stroke-width:1.1111;stroke-linecap:square;stroke-linejoin:miter"/>
<path d="M103.5 427.5 V432.361M193.5 427.5 V432.361M283.5 427.5 V432.361M373.5 427.5 V432.361M463.5 427.5 V432.361M553.5 427.5 V432.361M80.5 427.5 H75.639M80.5 353.5 H75.639M80.5 279.5 H75.639M80.5 205.5 H75.639M80.5 132.5 H75.639M80.5 58.5 H75.639" style="fill:none;stroke:#000;stroke-width:1.1111"/>
<text x="99.026" y="448.00" style="font-size:13.889px;font-family:'DejaVu Sans','Liberation Sans',sans-serif">0</text>
<text x="174.914 182.726 191.429 200.133" y="448.00" style="font-size:13.889px;font-family:'DejaVu Sans','Liberation Sans',sans-serif">5000</text>
<text x="261.965 269.652 278.480 287.183 295.887" y="448.00" style="font-size:13.889px;font-family:'DejaVu Sans','Liberation Sans',sans-serif">10000</text>
<text x="351.990 360.052 368.380 377.208 385.912" y="448.00" style="font-size:13.889px;font-family:'DejaVu Sans','Liberation Sans',sans-serif">15000</text>
<text x="440.940 449.752 458.580 467.158 475.987" y="448.00" style="font-size:13.889px;font-family:'DejaVu Sans','Liberation Sans',sans-serif">20000</text>
<text x="532.050 540.862 549.440 558.143 566.972" y="448.00" style="font-size:13.889px;font-family:'DejaVu Sans','Liberation Sans',sans-serif">25000</text>
<text x="288.957 296.878 300.972 314.488 322.910 327.660 336.722 341.910 350.691 359.378" y="467.00" style="font-size:13.889px;font-family:'DejaVu Sans','Liberation Sans',sans-serif">Time-Steps</text>
<text x="48.992 56.679 61.226" y="433.00" style="font-size:13.889px;font-family:'DejaVu Sans','Liberation Sans',sans-serif">0.5</text>
<text x="48.932 56.744 61.166" y="359.00" style="font-size:13.889px;font-family:'DejaVu Sans','Liberation Sans',sans-serif">0.6</text>
<text x="48.977 56.664 60.961" y="285.00" style="font-size:13.889px;font-family:'DejaVu Sans','Liberation Sans',sans-serif">0.7</text>
<text x="48.892 56.704 61.126" y="211.00" style="font-size:13.889px;font-family:'DejaVu Sans','Liberation Sans',sans-serif">0.8</text>
<text x="48.887 56.699 61.246" y="137.00" style="font-size:13.889px;font-family:'DejaVu Sans','Liberation Sans',sans-serif">0.9</text>
<text x="48.892 56.704 61.126" y="63.00" style="font-size:13.889px;font-family:'DejaVu Sans','Liberation Sans',sans-serif">1.0</text>
<text x="39.75" y="244.78" transform="rotate(-90 39.75 244.78)" style="font-size:13.889px;font-family:'DejaVu Sans','Liberation Sans',sans-serif;text-anchor:middle">N</text>
<text x="80.990 88.677 97.599" y="53.00" style="font-size:13.889px;font-family:'DejaVu Sans','Liberation Sans',sans-serif">1e6</text>
<text x="289.978 297.869 308.166 318.728 329.181 337.978 344.384 354.634" y="48.00" style="font-size:16.667px;font-family:'DejaVu Sans','Liberation Sans',sans-serif">Tungsten</text>
<path d="M424.278 132.500 L566.722 132.500 Q569.500 132.500 569.500 129.722 L569.500 68.278 Q569.500 65.500 566.722 65.500 L424.278 65.500 Q421.500 65.500 421.500 68.278 L421.500 129.722 Q421.500 132.500 424.278 132.500 Z" style="fill:#ffffff;fill-opacity:0.8;stroke:#cccccc;stroke-opacity:0.8;stroke-width:1.3889;stroke-linejoin:miter"/>
<path d="M427 76.000 H454" style="stroke:#ff0000;stroke-dasharray:7.708,3.333;stroke-width:2.0833;fill:none;stroke-linejoin:round;stroke-linecap:butt"/>
<path d="M427 97.000 H454" style="stroke:#0000ff;stroke-dasharray:7.708,3.333;stroke-width:2.0833;fill:none;stroke-linejoin:round;stroke-linecap:butt"/>
<path d="M441.50 114.33L440.56 117.21L437.54 117.21L439.99 118.99L439.05 121.87L441.50 120.09L443.95 121.87L443.01 118.99L445.46 117.21L442.44 117.21Z" style="fill:#008000;stroke:#008000;stroke-width:1.3889;stroke-linejoin:bevel"/>
<text x="465.945 472.695 481.195 488.179 496.961" y="81.00" style="font-size:13.889px;font-family:'DejaVu Sans','Liberation Sans',sans-serif">case2</text>
<text x="465.885 472.635 481.135 488.244 496.901" y="102.00" style="font-size:13.889px;font-family:'DejaVu Sans','Liberation Sans',sans-serif">case3</text>
<text x="465.900 474.697 483.244 486.962 495.384 503.134 508.697 517.228 526.291 530.447 541.134 549.634 555.447" y="123.00" style="font-size:13.889px;font-family:'DejaVu Sans','Liberation Sans',sans-serif">Selected Data</text>
</svg>
</body></html>
